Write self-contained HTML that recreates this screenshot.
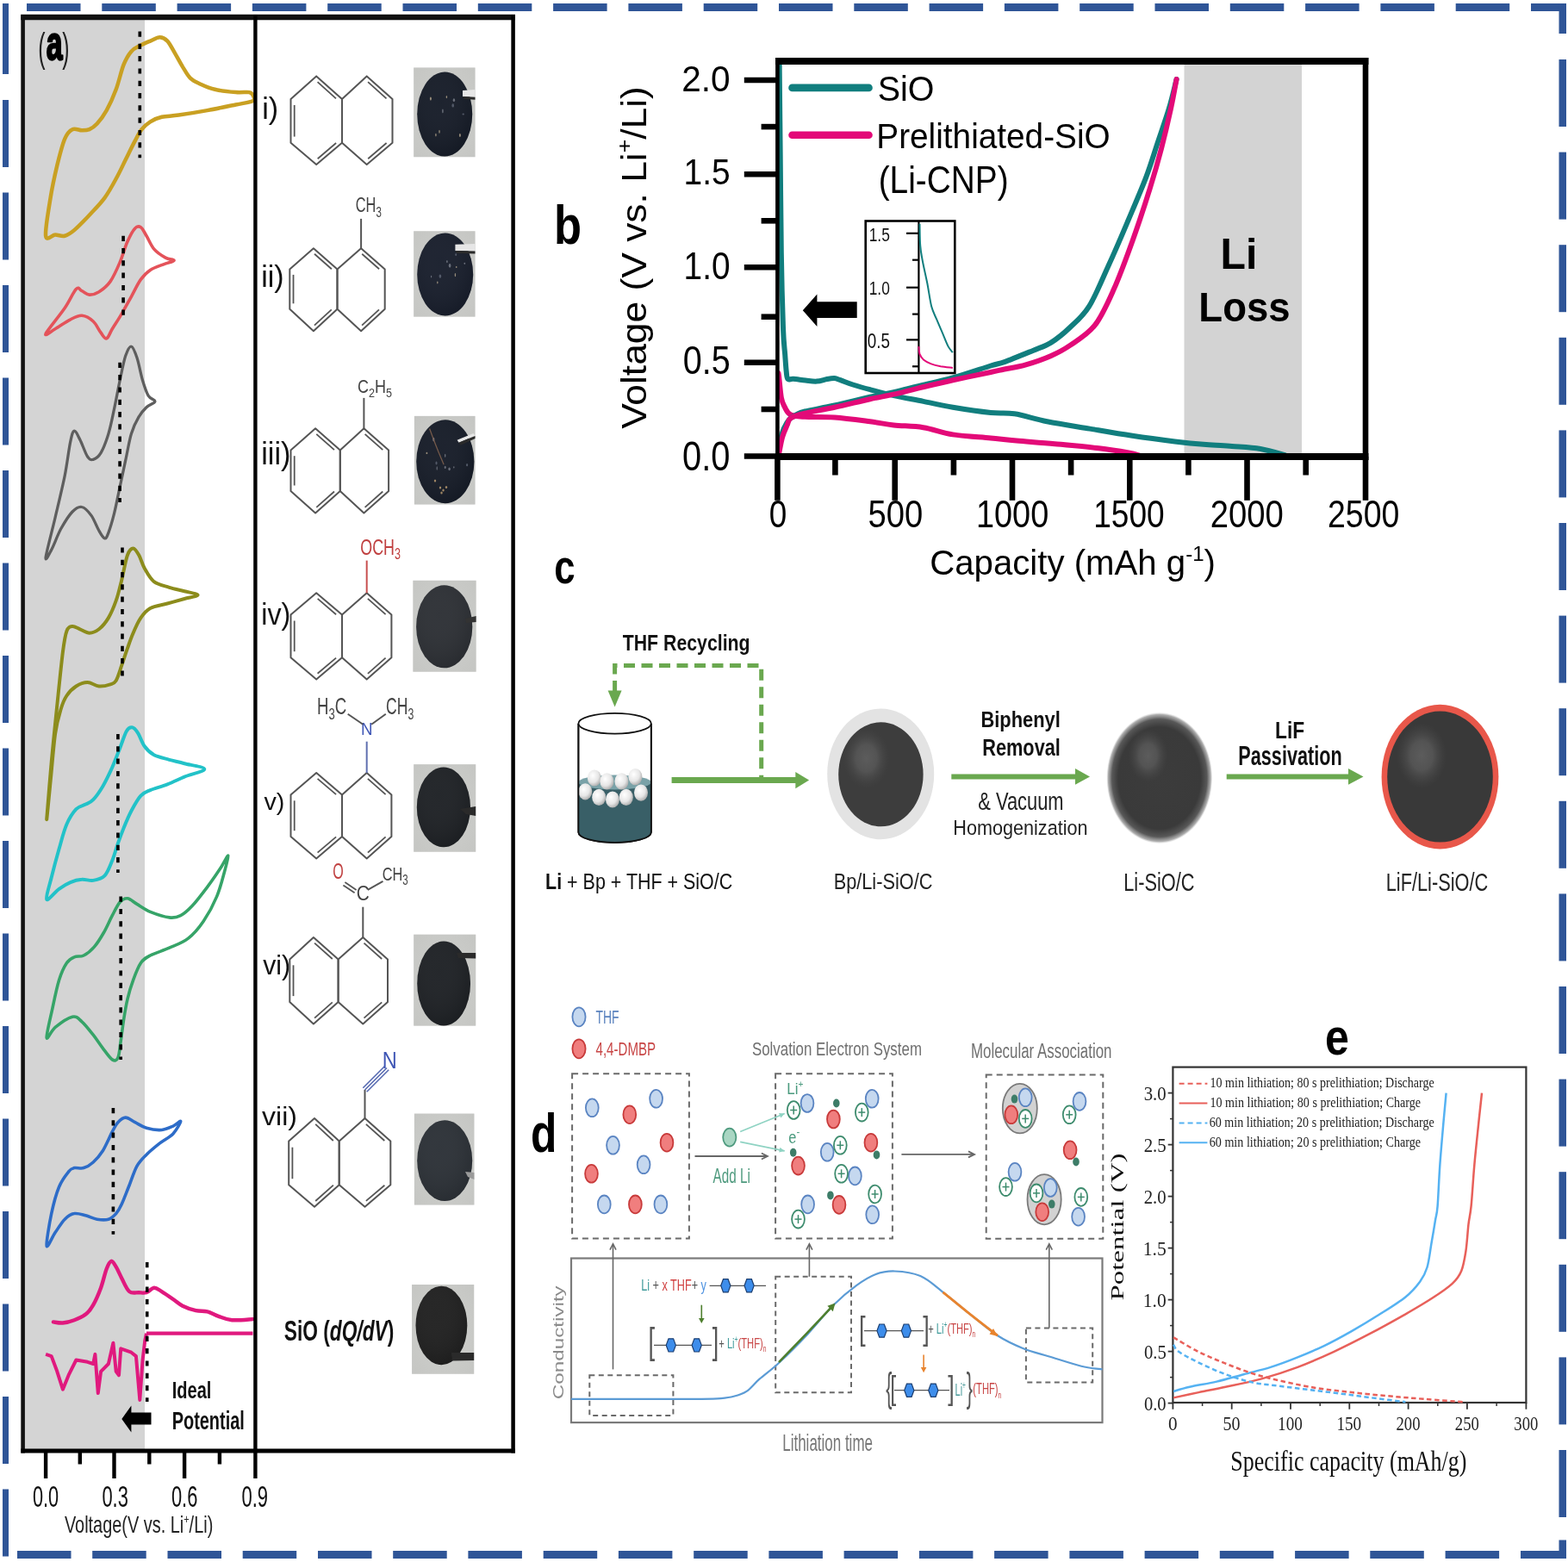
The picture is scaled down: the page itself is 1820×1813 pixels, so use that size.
<!DOCTYPE html>
<html><head><meta charset="utf-8"><title>Figure</title>
<style>html,body{margin:0;padding:0;background:#fff;}svg{display:block;}</style></head>
<body><svg width="1820" height="1813" viewBox="0 0 1820 1813">
<defs>
<radialGradient id="phbg" cx="0.5" cy="0.5" r="0.7"><stop offset="0" stop-color="#d4d5d2" stop-opacity="0.4"/><stop offset="1" stop-color="#b8b9b6" stop-opacity="0.4"/></radialGradient>
<radialGradient id="phsh" cx="0.4" cy="0.35" r="0.75"><stop offset="0" stop-color="#ffffff" stop-opacity="0.04"/><stop offset="1" stop-color="#000" stop-opacity="0.12"/></radialGradient>
<radialGradient id="wsph" cx="0.38" cy="0.35" r="0.7"><stop offset="0" stop-color="#ffffff"/><stop offset="0.6" stop-color="#e6e6e6"/><stop offset="1" stop-color="#a8a8a8"/></radialGradient>
<radialGradient id="dsph1" cx="0.5" cy="0.5" r="0.5" fx="0.3" fy="0.25"><stop offset="0" stop-color="#626262"/><stop offset="0.3" stop-color="#444"/><stop offset="1" stop-color="#353535"/></radialGradient>
<radialGradient id="dsph3" cx="0.5" cy="0.5" r="0.5" fx="0.3" fy="0.25"><stop offset="0" stop-color="#5e5e5e"/><stop offset="0.3" stop-color="#3e3e3e"/><stop offset="1" stop-color="#333"/></radialGradient>
<radialGradient id="fsph" cx="0.5" cy="0.5" r="0.5"><stop offset="0" stop-color="#3c3c3c"/><stop offset="0.78" stop-color="#3a3a3a"/><stop offset="0.9" stop-color="#585858"/><stop offset="0.97" stop-color="#8a8a8a" stop-opacity="0.7"/><stop offset="1" stop-color="#ccc" stop-opacity="0.2"/></radialGradient>
<radialGradient id="hl" cx="0.5" cy="0.5" r="0.5"><stop offset="0" stop-color="#5c5c5c" stop-opacity="1"/><stop offset="0.45" stop-color="#565656" stop-opacity="0.9"/><stop offset="0.75" stop-color="#4a4a4a" stop-opacity="0.5"/><stop offset="1" stop-color="#444" stop-opacity="0"/></radialGradient>
</defs>
<rect width="1820" height="1813" fill="#fff"/>
<rect x="31.0" y="4.0" width="62.5" height="9.0" fill="#2F5597" />
<rect x="118.3" y="4.0" width="62.5" height="9.0" fill="#2F5597" />
<rect x="205.6" y="4.0" width="62.5" height="9.0" fill="#2F5597" />
<rect x="292.9" y="4.0" width="62.5" height="9.0" fill="#2F5597" />
<rect x="380.2" y="4.0" width="62.5" height="9.0" fill="#2F5597" />
<rect x="467.5" y="4.0" width="62.5" height="9.0" fill="#2F5597" />
<rect x="554.8" y="4.0" width="62.5" height="9.0" fill="#2F5597" />
<rect x="642.1" y="4.0" width="62.5" height="9.0" fill="#2F5597" />
<rect x="729.4" y="4.0" width="62.5" height="9.0" fill="#2F5597" />
<rect x="816.7" y="4.0" width="62.5" height="9.0" fill="#2F5597" />
<rect x="904.0" y="4.0" width="62.5" height="9.0" fill="#2F5597" />
<rect x="991.3" y="4.0" width="62.5" height="9.0" fill="#2F5597" />
<rect x="1078.6" y="4.0" width="62.5" height="9.0" fill="#2F5597" />
<rect x="1165.9" y="4.0" width="62.5" height="9.0" fill="#2F5597" />
<rect x="1253.2" y="4.0" width="62.5" height="9.0" fill="#2F5597" />
<rect x="1340.5" y="4.0" width="62.5" height="9.0" fill="#2F5597" />
<rect x="1427.8" y="4.0" width="62.5" height="9.0" fill="#2F5597" />
<rect x="1515.1" y="4.0" width="62.5" height="9.0" fill="#2F5597" />
<rect x="1602.4" y="4.0" width="62.5" height="9.0" fill="#2F5597" />
<rect x="1689.7" y="4.0" width="62.5" height="9.0" fill="#2F5597" />
<rect x="1777.0" y="4.0" width="41.0" height="9.0" fill="#2F5597" />
<rect x="1809.5" y="4.0" width="8.5" height="35.0" fill="#2F5597" />
<rect x="1809.5" y="69.0" width="8.5" height="78.0" fill="#2F5597" />
<rect x="1809.5" y="176.6" width="8.5" height="78.0" fill="#2F5597" />
<rect x="1809.5" y="284.2" width="8.5" height="78.0" fill="#2F5597" />
<rect x="1809.5" y="391.8" width="8.5" height="78.0" fill="#2F5597" />
<rect x="1809.5" y="499.4" width="8.5" height="78.0" fill="#2F5597" />
<rect x="1809.5" y="607.0" width="8.5" height="78.0" fill="#2F5597" />
<rect x="1809.5" y="714.6" width="8.5" height="78.0" fill="#2F5597" />
<rect x="1809.5" y="822.2" width="8.5" height="78.0" fill="#2F5597" />
<rect x="1809.5" y="929.8" width="8.5" height="78.0" fill="#2F5597" />
<rect x="1809.5" y="1037.4" width="8.5" height="78.0" fill="#2F5597" />
<rect x="1809.5" y="1145.0" width="8.5" height="78.0" fill="#2F5597" />
<rect x="1809.5" y="1252.6" width="8.5" height="78.0" fill="#2F5597" />
<rect x="1809.5" y="1360.2" width="8.5" height="78.0" fill="#2F5597" />
<rect x="1809.5" y="1467.8" width="8.5" height="78.0" fill="#2F5597" />
<rect x="1809.5" y="1575.4" width="8.5" height="78.0" fill="#2F5597" />
<rect x="1809.5" y="1683.0" width="8.5" height="78.0" fill="#2F5597" />
<rect x="1809.5" y="1787.5" width="8.5" height="21.5" fill="#2F5597" />
<rect x="1765.0" y="1800.0" width="53.0" height="9.0" fill="#2F5597" />
<rect x="20.0" y="1800.0" width="62.5" height="9.0" fill="#2F5597" />
<rect x="107.2" y="1800.0" width="62.5" height="9.0" fill="#2F5597" />
<rect x="194.5" y="1800.0" width="62.5" height="9.0" fill="#2F5597" />
<rect x="281.7" y="1800.0" width="62.5" height="9.0" fill="#2F5597" />
<rect x="369.0" y="1800.0" width="62.5" height="9.0" fill="#2F5597" />
<rect x="456.2" y="1800.0" width="62.5" height="9.0" fill="#2F5597" />
<rect x="543.4" y="1800.0" width="62.5" height="9.0" fill="#2F5597" />
<rect x="630.7" y="1800.0" width="62.5" height="9.0" fill="#2F5597" />
<rect x="717.9" y="1800.0" width="62.5" height="9.0" fill="#2F5597" />
<rect x="805.2" y="1800.0" width="62.5" height="9.0" fill="#2F5597" />
<rect x="892.4" y="1800.0" width="62.5" height="9.0" fill="#2F5597" />
<rect x="979.6" y="1800.0" width="62.5" height="9.0" fill="#2F5597" />
<rect x="1066.9" y="1800.0" width="62.5" height="9.0" fill="#2F5597" />
<rect x="1154.1" y="1800.0" width="62.5" height="9.0" fill="#2F5597" />
<rect x="1241.4" y="1800.0" width="62.5" height="9.0" fill="#2F5597" />
<rect x="1328.6" y="1800.0" width="62.5" height="9.0" fill="#2F5597" />
<rect x="1415.8" y="1800.0" width="62.5" height="9.0" fill="#2F5597" />
<rect x="1503.1" y="1800.0" width="62.5" height="9.0" fill="#2F5597" />
<rect x="1590.3" y="1800.0" width="62.5" height="9.0" fill="#2F5597" />
<rect x="1677.6" y="1800.0" width="62.5" height="9.0" fill="#2F5597" />
<rect x="3.0" y="4.0" width="7.0" height="82.0" fill="#2F5597" />
<rect x="3.0" y="116.0" width="7.0" height="78.0" fill="#2F5597" />
<rect x="3.0" y="223.5" width="7.0" height="78.0" fill="#2F5597" />
<rect x="3.0" y="331.0" width="7.0" height="78.0" fill="#2F5597" />
<rect x="3.0" y="438.5" width="7.0" height="78.0" fill="#2F5597" />
<rect x="3.0" y="546.0" width="7.0" height="78.0" fill="#2F5597" />
<rect x="3.0" y="653.5" width="7.0" height="78.0" fill="#2F5597" />
<rect x="3.0" y="761.0" width="7.0" height="78.0" fill="#2F5597" />
<rect x="3.0" y="868.5" width="7.0" height="78.0" fill="#2F5597" />
<rect x="3.0" y="976.0" width="7.0" height="78.0" fill="#2F5597" />
<rect x="3.0" y="1083.5" width="7.0" height="78.0" fill="#2F5597" />
<rect x="3.0" y="1191.0" width="7.0" height="78.0" fill="#2F5597" />
<rect x="3.0" y="1298.5" width="7.0" height="78.0" fill="#2F5597" />
<rect x="3.0" y="1406.0" width="7.0" height="78.0" fill="#2F5597" />
<rect x="3.0" y="1513.5" width="7.0" height="78.0" fill="#2F5597" />
<rect x="3.0" y="1621.0" width="7.0" height="78.0" fill="#2F5597" />
<rect x="3.0" y="1728.5" width="7.0" height="78.0" fill="#2F5597" />
<rect x="28.5" y="23.0" width="139.5" height="1659.0" fill="#D4D4D4" />
<path d="M53.1,273.7 C52.2,266.5 56.4,243.2 58.6,229.6 C60.8,216.0 63.6,203.5 66.3,192.1 C69.1,180.7 72.2,168.2 75.2,161.2 C78.1,154.2 80.7,151.8 84.0,150.2 C87.3,148.5 91.7,151.3 95.0,151.3 C98.3,151.3 100.9,151.4 103.8,150.2 C106.8,148.9 109.3,147.2 112.7,143.5 C116.0,139.9 120.0,134.7 123.7,128.1 C127.4,121.5 131.4,112.7 134.7,103.8 C138.0,95.0 140.6,82.5 143.5,75.2 C146.5,67.8 149.2,63.4 152.4,59.7 C155.5,56.0 158.6,55.1 162.3,53.1 C166.0,51.1 170.6,49.2 174.4,47.6 C178.3,45.9 182.1,43.2 185.5,43.2 C188.8,43.2 191.3,44.5 194.3,47.6 C197.2,50.7 200.2,57.0 203.1,61.9 C206.0,66.9 209.0,72.6 211.9,77.4 C214.9,82.1 217.4,87.3 220.8,90.6 C224.1,93.9 227.0,95.0 231.8,97.2 C236.6,99.4 242.4,102.2 249.4,103.8 C256.4,105.5 267.1,106.6 273.7,107.1 C280.3,107.7 285.8,106.6 289.1,107.1 C292.4,107.7 292.8,108.8 293.5,110.4 C294.3,112.1 296.9,115.2 293.5,117.1 C290.2,118.9 282.5,119.6 273.7,121.5 C264.9,123.3 251.6,126.1 240.6,128.1 C229.6,130.1 216.3,132.3 207.5,133.6 C198.7,134.9 193.2,134.5 187.7,135.8 C182.1,137.1 178.3,138.9 174.4,141.3 C170.6,143.7 167.4,146.5 164.5,150.2 C161.6,153.8 159.9,157.5 156.8,163.4 C153.6,169.3 149.4,178.1 145.7,185.5 C142.1,192.8 138.8,200.2 134.7,207.5 C130.7,214.9 126.3,223.0 121.5,229.6 C116.7,236.2 111.9,241.0 106.0,247.2 C100.2,253.5 91.3,262.7 86.2,267.1 C81.0,271.5 78.8,272.8 75.2,273.7 C71.5,274.6 67.8,272.6 64.1,272.6 C60.4,272.6 54.0,280.9 53.1,273.7 Z" stroke="#C9A022" stroke-width="4.5" fill="none" stroke-linejoin="round"/>
<path d="M53.1,387.3 C54.9,383.3 69.3,366.2 75.2,357.5 C81.0,348.9 85.1,338.8 88.4,335.5 C91.7,332.2 92.4,336.6 95.0,337.7 C97.6,338.8 100.5,341.9 103.8,342.1 C107.1,342.3 110.8,341.3 114.9,338.8 C118.9,336.2 124.1,332.3 128.1,326.6 C132.1,320.9 135.8,312.3 139.1,304.6 C142.4,296.9 145.0,286.9 148.0,280.3 C150.9,273.7 154.2,267.6 156.8,264.9 C159.3,262.1 161.2,262.3 163.4,263.8 C165.6,265.2 167.4,269.5 170.0,273.7 C172.6,277.9 175.2,284.9 178.8,289.1 C182.5,293.4 188.2,296.9 192.1,299.1 C195.9,301.3 202.4,301.1 202.0,302.4 C201.6,303.7 194.5,304.9 189.9,306.8 C185.3,308.6 178.8,310.5 174.4,313.4 C170.0,316.3 167.1,319.3 163.4,324.4 C159.7,329.6 156.0,337.7 152.4,344.3 C148.7,350.9 145.0,357.9 141.3,364.1 C137.7,370.4 133.2,377.0 130.3,381.8 C127.4,386.6 125.9,392.1 123.7,392.8 C121.5,393.6 119.6,389.5 117.1,386.2 C114.5,382.9 111.9,376.3 108.2,373.0 C104.6,369.7 99.4,366.7 95.0,366.3 C90.6,366.0 86.9,368.2 81.8,370.8 C76.6,373.3 68.9,379.0 64.1,381.8 C59.3,384.5 51.3,391.4 53.1,387.3 Z" stroke="#E4535A" stroke-width="3.6" fill="none" stroke-linejoin="round"/>
<path d="M53.1,646.9 C53.8,640.7 60.4,616.4 64.1,600.6 C67.8,584.8 72.2,566.8 75.2,552.1 C78.1,537.4 79.9,521.0 81.8,512.4 C83.6,503.7 84.3,500.6 86.2,500.2 C88.0,499.9 90.2,505.2 92.8,510.2 C95.4,515.1 99.0,526.2 101.6,530.0 C104.2,533.9 105.7,534.1 108.2,533.3 C110.8,532.6 114.1,530.6 117.1,525.6 C120.0,520.6 123.3,512.0 125.9,503.5 C128.5,495.1 130.3,485.2 132.5,474.9 C134.7,464.6 136.9,452.1 139.1,441.8 C141.3,431.5 143.5,419.7 145.7,413.1 C148.0,406.5 150.2,401.7 152.4,402.1 C154.6,402.4 156.8,408.7 159.0,415.3 C161.2,421.9 163.4,434.4 165.6,441.8 C167.8,449.1 169.8,455.4 172.2,459.4 C174.6,463.5 180.3,463.8 179.9,466.0 C179.6,468.2 173.1,469.7 170.0,472.7 C166.9,475.6 164.1,478.5 161.2,483.7 C158.2,488.8 154.9,495.1 152.4,503.5 C149.8,512.0 148.0,524.1 145.7,534.4 C143.5,544.7 141.3,555.0 139.1,565.3 C136.9,575.6 134.7,587.4 132.5,596.2 C130.3,605.0 127.7,613.5 125.9,618.3 C124.1,623.0 123.3,625.2 121.5,624.9 C119.6,624.5 117.4,620.5 114.9,616.0 C112.3,611.6 109.3,603.0 106.0,598.4 C102.7,593.8 98.7,589.2 95.0,588.5 C91.3,587.7 88.0,589.8 84.0,594.0 C79.9,598.2 74.8,606.5 70.7,613.8 C66.7,621.2 62.7,632.6 59.7,638.1 C56.8,643.6 52.4,653.2 53.1,646.9 Z" stroke="#5E5E5E" stroke-width="3.3" fill="none" stroke-linejoin="round"/>
<path d="M54.2,950.9 C54.4,947.2 57.7,906.8 59.7,884.7 C61.7,862.7 64.1,839.9 66.3,818.5 C68.5,797.2 71.1,771.1 72.9,756.8 C74.8,742.4 75.5,737.5 77.4,732.5 C79.2,727.5 81.4,727.4 84.0,727.0 C86.5,726.6 89.5,729.0 92.8,730.3 C96.1,731.6 100.2,734.7 103.8,734.7 C107.5,734.7 111.2,733.2 114.9,730.3 C118.5,727.4 122.6,722.6 125.9,717.1 C129.2,711.6 132.1,704.6 134.7,697.2 C137.3,689.9 139.1,681.8 141.3,672.9 C143.5,664.1 145.7,650.3 148.0,644.3 C150.2,638.2 152.4,636.5 154.6,636.5 C156.8,636.5 159.0,640.4 161.2,644.3 C163.4,648.1 164.9,654.6 167.8,659.7 C170.7,664.9 174.1,671.5 178.8,675.2 C183.6,678.8 190.6,679.9 196.5,681.8 C202.4,683.6 208.6,684.7 214.1,686.2 C219.6,687.7 229.6,689.1 229.6,690.6 C229.6,692.1 220.0,693.4 214.1,695.0 C208.2,696.7 200.9,698.7 194.3,700.5 C187.7,702.4 179.6,703.3 174.4,706.0 C169.3,708.8 166.7,712.3 163.4,717.1 C160.1,721.8 157.1,728.8 154.6,734.7 C152.0,740.6 150.2,746.1 148.0,752.4 C145.7,758.6 143.5,766.0 141.3,772.2 C139.1,778.5 136.9,786.2 134.7,789.9 C132.5,793.5 131.4,793.2 128.1,794.3 C124.8,795.4 119.3,796.9 114.9,796.5 C110.4,796.1 106.0,792.1 101.6,792.1 C97.2,792.1 92.4,793.9 88.4,796.5 C84.3,799.1 80.3,803.1 77.4,807.5 C74.4,811.9 72.9,815.6 70.7,823.0 C68.5,830.3 66.1,837.7 64.1,851.6 C62.1,865.6 60.3,890.2 58.6,906.8 C57.0,923.3 54.0,954.6 54.2,950.9 Z" stroke="#8C8C1C" stroke-width="4.0" fill="none" stroke-linejoin="round"/>
<path d="M54.2,1043.9 C52.7,1041.7 57.3,1028.3 59.7,1018.5 C62.1,1008.8 65.6,995.7 68.5,985.5 C71.5,975.2 74.0,964.5 77.4,956.8 C80.7,949.1 84.7,943.0 88.4,939.1 C92.1,935.3 96.1,935.4 99.4,933.6 C102.7,931.8 104.9,931.6 108.2,928.1 C111.6,924.6 115.6,918.9 119.3,912.7 C122.9,906.4 127.0,897.9 130.3,890.6 C133.6,883.2 136.4,875.5 139.1,868.5 C141.9,861.5 144.5,852.7 146.8,848.7 C149.2,844.6 151.3,843.9 153.5,844.3 C155.7,844.6 157.7,847.2 160.1,850.9 C162.5,854.6 164.7,862.1 167.8,866.3 C170.9,870.6 174.1,873.7 178.8,876.3 C183.6,878.8 190.6,880.1 196.5,881.8 C202.4,883.4 207.3,884.3 214.1,886.2 C220.9,888.0 237.3,890.2 237.3,892.8 C237.3,895.4 221.3,898.7 214.1,901.6 C207.0,904.6 200.9,907.9 194.3,910.4 C187.7,913.0 179.6,914.9 174.4,917.1 C169.3,919.3 167.1,919.6 163.4,923.7 C159.7,927.7 155.7,935.1 152.4,941.3 C149.1,947.6 146.1,954.9 143.5,961.2 C141.0,967.4 139.1,972.6 136.9,978.8 C134.7,985.1 132.9,992.4 130.3,998.7 C127.7,1004.9 125.2,1012.5 121.5,1016.3 C117.8,1020.2 112.7,1021.1 108.2,1021.9 C103.8,1022.6 99.4,1020.4 95.0,1020.8 C90.6,1021.1 86.2,1022.2 81.8,1024.1 C77.4,1025.9 73.1,1028.5 68.5,1031.8 C63.9,1035.1 55.7,1046.1 54.2,1043.9 Z" stroke="#22C2C8" stroke-width="4.0" fill="none" stroke-linejoin="round"/>
<path d="M54.2,1204.5 C53.6,1200.9 58.4,1181.9 60.8,1170.8 C63.2,1159.6 65.8,1146.5 68.5,1137.7 C71.3,1128.8 74.4,1122.3 77.4,1117.8 C80.3,1113.3 82.9,1112.2 86.2,1110.8 C89.5,1109.3 93.4,1110.9 97.2,1109.0 C101.1,1107.0 105.5,1103.5 109.3,1099.1 C113.2,1094.7 116.9,1088.6 120.4,1082.5 C123.9,1076.5 127.2,1068.5 130.3,1062.7 C133.4,1056.8 136.2,1050.5 139.1,1047.2 C142.1,1043.9 144.6,1042.4 148.0,1042.8 C151.3,1043.2 154.6,1046.9 159.0,1049.4 C163.4,1052.0 168.2,1055.7 174.4,1058.3 C180.7,1060.8 190.6,1064.1 196.5,1064.9 C202.4,1065.6 205.3,1064.9 209.7,1062.7 C214.1,1060.5 217.8,1057.1 223.0,1051.6 C228.1,1046.1 235.1,1036.9 240.6,1029.6 C246.1,1022.2 252.0,1013.6 256.0,1007.5 C260.1,1001.4 264.1,992.4 264.9,993.2 C265.6,993.9 262.7,1004.0 260.5,1011.9 C258.3,1019.8 255.7,1031.0 251.6,1040.6 C247.6,1050.2 241.7,1061.2 236.2,1069.3 C230.7,1077.4 225.2,1084.0 218.5,1089.1 C211.9,1094.3 203.8,1096.9 196.5,1100.2 C189.1,1103.5 179.9,1106.1 174.4,1109.0 C168.9,1111.9 166.7,1113.0 163.4,1117.8 C160.1,1122.6 157.1,1130.7 154.6,1137.7 C152.0,1144.7 149.8,1152.0 148.0,1159.7 C146.1,1167.5 144.8,1175.9 143.5,1184.0 C142.3,1192.1 141.3,1201.0 140.2,1208.3 C139.1,1215.5 138.6,1224.1 136.9,1227.7 C135.3,1231.3 133.2,1231.7 130.3,1229.9 C127.4,1228.0 122.9,1221.4 119.3,1216.6 C115.6,1211.9 112.3,1206.4 108.2,1201.2 C104.2,1196.1 99.0,1189.3 95.0,1185.8 C91.0,1182.3 89.1,1179.1 84.0,1180.2 C78.8,1181.4 69.1,1188.3 64.1,1192.4 C59.2,1196.4 54.7,1208.1 54.2,1204.5 Z" stroke="#36A468" stroke-width="3.6" fill="none" stroke-linejoin="round"/>
<path d="M54.2,1446.1 C53.5,1442.4 57.3,1420.0 59.7,1408.6 C62.1,1397.2 65.2,1385.8 68.5,1377.7 C71.8,1369.6 76.6,1363.7 79.6,1360.0 C82.5,1356.3 83.2,1356.3 86.2,1355.6 C89.1,1354.9 93.5,1356.7 97.2,1355.6 C100.9,1354.5 104.6,1352.3 108.2,1349.0 C111.9,1345.7 115.6,1341.6 119.3,1335.8 C122.9,1329.9 127.4,1319.2 130.3,1313.7 C133.2,1308.2 134.3,1305.4 136.9,1302.7 C139.5,1299.9 142.4,1297.1 145.7,1297.1 C149.1,1297.1 152.7,1300.6 156.8,1302.7 C160.8,1304.7 164.9,1307.8 170.0,1309.3 C175.2,1310.8 182.5,1311.9 187.7,1311.5 C192.8,1311.1 197.2,1308.7 200.9,1307.1 C204.6,1305.4 209.7,1300.1 209.7,1301.6 C209.7,1303.0 204.9,1311.7 200.9,1315.9 C196.9,1320.1 190.6,1322.9 185.5,1326.9 C180.3,1331.0 174.4,1335.8 170.0,1340.2 C165.6,1344.6 162.3,1347.5 159.0,1353.4 C155.7,1359.3 153.1,1368.1 150.2,1375.5 C147.2,1382.8 143.9,1392.0 141.3,1397.5 C138.8,1403.0 137.3,1405.6 134.7,1408.6 C132.1,1411.5 129.6,1414.1 125.9,1415.2 C122.2,1416.3 117.1,1415.9 112.7,1415.2 C108.2,1414.4 103.8,1411.9 99.4,1410.8 C95.0,1409.7 90.2,1407.8 86.2,1408.6 C82.1,1409.3 78.8,1411.5 75.2,1415.2 C71.5,1418.8 67.6,1425.5 64.1,1430.6 C60.6,1435.8 54.9,1449.7 54.2,1446.1 Z" stroke="#2D6CC8" stroke-width="3.6" fill="none" stroke-linejoin="round"/>
<path d="M61.9,1534.4 C63.8,1534.6 68.9,1535.9 72.9,1535.5 C77.0,1535.2 81.8,1533.9 86.2,1532.2 C90.6,1530.6 95.7,1528.5 99.4,1525.6 C103.1,1522.7 105.3,1519.7 108.2,1514.6 C111.2,1509.4 114.5,1501.7 117.1,1494.7 C119.6,1487.7 121.7,1477.8 123.7,1472.7 C125.7,1467.5 127.4,1464.2 129.2,1463.8 C131.0,1463.5 132.7,1467.1 134.7,1470.4 C136.7,1473.8 138.8,1478.9 141.3,1483.7 C143.9,1488.5 146.8,1496.4 150.2,1499.1 C153.5,1501.9 157.9,1500.0 161.2,1500.2 C164.5,1500.4 167.1,1501.1 170.0,1500.2 C173.0,1499.3 175.9,1494.9 178.8,1494.7 C181.8,1494.5 184.0,1496.9 187.7,1499.1 C191.3,1501.3 196.9,1505.2 200.9,1508.0 C204.9,1510.7 207.5,1513.5 211.9,1515.7 C216.3,1517.9 222.6,1520.1 227.4,1521.2 C232.1,1522.3 236.2,1521.2 240.6,1522.3 C245.0,1523.4 249.1,1526.2 253.8,1527.8 C258.6,1529.5 262.7,1531.7 269.3,1532.2 C275.9,1532.8 289.5,1531.3 293.5,1531.1" stroke="#E0197E" stroke-width="4.4" fill="none" stroke-linecap="round"/>
<path d="M170.0,1547.7 L293.5,1547.7" stroke="#E0197E" stroke-width="4.2" fill="none" />
<path d="M53.1,1571.9 L59.7,1574.1 L66.3,1591.8 L72.9,1612.7 L79.6,1596.2 L88.4,1578.5 L101.6,1580.8 L108.2,1583.0 L110.4,1571.9 L113.8,1617.1 L117.1,1591.8 L125.9,1583.0 L131.4,1558.7 L134.7,1591.8 L138.0,1596.2 L140.2,1565.3 L152.4,1569.7 L157.9,1574.1 L162.3,1624.9 L165.6,1578.5 L168.2,1556.5 L170.0,1547.7" stroke="#E0197E" stroke-width="4.0" fill="none" stroke-linejoin="round"/>
<line x1="162.3" y1="36.5" x2="162.3" y2="183.2" stroke="#000" stroke-width="3.6" stroke-dasharray="6.2 8.1"/>
<line x1="143.1" y1="273.7" x2="143.1" y2="373.0" stroke="#000" stroke-width="3.6" stroke-dasharray="6.2 8.1"/>
<line x1="139.1" y1="420.8" x2="139.1" y2="583.0" stroke="#000" stroke-width="3.6" stroke-dasharray="6.2 8.1"/>
<line x1="142.0" y1="635.4" x2="142.0" y2="789.9" stroke="#000" stroke-width="3.6" stroke-dasharray="6.2 8.1"/>
<line x1="136.9" y1="852.0" x2="136.9" y2="1013.0" stroke="#000" stroke-width="3.6" stroke-dasharray="6.2 8.1"/>
<line x1="140.2" y1="1040.6" x2="140.2" y2="1229.9" stroke="#000" stroke-width="3.6" stroke-dasharray="6.2 8.1"/>
<line x1="131.4" y1="1286.0" x2="131.4" y2="1432.8" stroke="#000" stroke-width="3.6" stroke-dasharray="6.2 8.1"/>
<line x1="170.7" y1="1465.0" x2="170.7" y2="1627.0" stroke="#000" stroke-width="3.6" stroke-dasharray="6.2 8.1"/>
<path d="M141.3,1647.0 L152.4,1631.5 L152.4,1639.5 L175.5,1639.5 L175.5,1653.5 L152.4,1653.5 L152.4,1662.4 Z" stroke="none" stroke-width="1" fill="#000" />
<line x1="26.6" y1="17.0" x2="26.6" y2="1686.5" stroke="#111" stroke-width="4.6" />
<line x1="24.3" y1="20.0" x2="598.0" y2="20.0" stroke="#111" stroke-width="6.6" />
<line x1="595.6" y1="17.0" x2="595.6" y2="1686.5" stroke="#000" stroke-width="4.5" />
<line x1="24.3" y1="1684.0" x2="598.0" y2="1684.0" stroke="#000" stroke-width="5.0" />
<line x1="296.4" y1="17.0" x2="296.4" y2="1716.0" stroke="#000" stroke-width="4.4" />
<line x1="53.1" y1="1684.0" x2="53.1" y2="1716.0" stroke="#000" stroke-width="4.4" />
<line x1="132.5" y1="1684.0" x2="132.5" y2="1716.0" stroke="#000" stroke-width="4.4" />
<line x1="214.1" y1="1684.0" x2="214.1" y2="1716.0" stroke="#000" stroke-width="4.4" />
<line x1="92.8" y1="1684.0" x2="92.8" y2="1699.5" stroke="#000" stroke-width="4.4" />
<line x1="173.3" y1="1684.0" x2="173.3" y2="1699.5" stroke="#000" stroke-width="4.4" />
<line x1="254.9" y1="1684.0" x2="254.9" y2="1699.5" stroke="#000" stroke-width="4.4" />
<text style="white-space:pre" x="37.93" y="1749.15" font-family='"Liberation Sans", Arial, sans-serif' font-size="34.79" textLength="30.23" lengthAdjust="spacingAndGlyphs" fill="#111" >0.0</text>
<text style="white-space:pre" x="118.42" y="1749.15" font-family='"Liberation Sans", Arial, sans-serif' font-size="34.79" textLength="30.46" lengthAdjust="spacingAndGlyphs" fill="#111" >0.3</text>
<text style="white-space:pre" x="198.92" y="1749.15" font-family='"Liberation Sans", Arial, sans-serif' font-size="34.79" textLength="30.46" lengthAdjust="spacingAndGlyphs" fill="#111" >0.6</text>
<text style="white-space:pre" x="280.52" y="1749.15" font-family='"Liberation Sans", Arial, sans-serif' font-size="34.79" textLength="30.57" lengthAdjust="spacingAndGlyphs" fill="#111" >0.9</text>
<text style="white-space:pre" x="74.90" y="1779.25" font-family='"Liberation Sans", Arial, sans-serif' font-size="27.37" textLength="138.33" lengthAdjust="spacingAndGlyphs" fill="#222" >Voltage(V vs. Li</text>
<text style="white-space:pre" x="213.23" y="1767.76" font-family='"Liberation Sans", Arial, sans-serif' font-size="15.05" textLength="6.39" lengthAdjust="spacingAndGlyphs" fill="#222" >+</text>
<text style="white-space:pre" x="219.62" y="1779.25" font-family='"Liberation Sans", Arial, sans-serif' font-size="27.37" textLength="27.66" lengthAdjust="spacingAndGlyphs" fill="#222" >/Li)</text>
<text style="white-space:pre" x="44.31" y="70.73" font-family='"Liberation Sans", Arial, sans-serif' font-size="46.52" textLength="8.29" lengthAdjust="spacingAndGlyphs" fill="#222" >(</text>
<text style="white-space:pre" x="53.79" y="69.45" font-family='"Liberation Sans", Arial, sans-serif' font-size="54.91" font-weight="bold" textLength="18.82" lengthAdjust="spacingAndGlyphs" fill="#000" stroke="#000" stroke-width="2.4" stroke-linejoin="round">a</text>
<text style="white-space:pre" x="72.18" y="70.73" font-family='"Liberation Sans", Arial, sans-serif' font-size="46.52" textLength="8.29" lengthAdjust="spacingAndGlyphs" fill="#222" >)</text>
<text style="white-space:pre" x="199.70" y="1622.73" font-family='"Liberation Sans", Arial, sans-serif' font-size="27.21" font-weight="bold" textLength="45.68" lengthAdjust="spacingAndGlyphs" fill="#111" >Ideal</text>
<text style="white-space:pre" x="199.70" y="1658.70" font-family='"Liberation Sans", Arial, sans-serif' font-size="29.93" font-weight="bold" textLength="84.15" lengthAdjust="spacingAndGlyphs" fill="#111" >Potential</text>
<text style="white-space:pre" x="304.28" y="137.51" font-family='"Liberation Sans", Arial, sans-serif' font-size="34.22" textLength="18.94" lengthAdjust="spacingAndGlyphs" fill="#111" >i)</text>
<text style="white-space:pre" x="303.19" y="332.59" font-family='"Liberation Sans", Arial, sans-serif' font-size="35.29" textLength="26.43" lengthAdjust="spacingAndGlyphs" fill="#111" >ii)</text>
<text style="white-space:pre" x="303.17" y="539.22" font-family='"Liberation Sans", Arial, sans-serif' font-size="36.58" textLength="34.24" lengthAdjust="spacingAndGlyphs" fill="#111" >iii)</text>
<text style="white-space:pre" x="303.31" y="725.11" font-family='"Liberation Sans", Arial, sans-serif' font-size="34.22" textLength="34.00" lengthAdjust="spacingAndGlyphs" fill="#111" >iv)</text>
<text style="white-space:pre" x="306.46" y="939.75" font-family='"Liberation Sans", Arial, sans-serif' font-size="28.34" textLength="23.96" lengthAdjust="spacingAndGlyphs" fill="#111" >v)</text>
<text style="white-space:pre" x="305.25" y="1131.25" font-family='"Liberation Sans", Arial, sans-serif' font-size="30.70" textLength="31.92" lengthAdjust="spacingAndGlyphs" fill="#111" >vi)</text>
<text style="white-space:pre" x="304.14" y="1306.20" font-family='"Liberation Sans", Arial, sans-serif' font-size="29.52" textLength="40.86" lengthAdjust="spacingAndGlyphs" fill="#111" >vii)</text>
<path d="M367.2,88.4 L397.0,114.9 L397.0,165.7 L367.2,191.0 L337.5,165.7 L337.5,114.9 Z" stroke="#555" stroke-width="2.0" fill="none" stroke-linejoin="round"/>
<path d="M425.7,88.4 L455.5,114.9 L455.5,165.7 L425.7,191.0 L397.0,165.7 L397.0,114.9 Z" stroke="#555" stroke-width="2.0" fill="none" stroke-linejoin="round"/>
<line x1="341.7" y1="122.0" x2="341.7" y2="158.6" stroke="#555" stroke-width="1.8" />
<line x1="368.6" y1="95.2" x2="390.0" y2="114.3" stroke="#555" stroke-width="1.8" />
<line x1="390.1" y1="166.0" x2="368.7" y2="184.3" stroke="#555" stroke-width="1.8" />
<line x1="427.1" y1="95.2" x2="448.5" y2="114.3" stroke="#555" stroke-width="1.8" />
<line x1="448.6" y1="166.0" x2="427.2" y2="184.3" stroke="#555" stroke-width="1.8" />
<path d="M363.9,288.2 L391.5,312.4 L391.5,358.8 L363.9,384.2 L336.3,358.8 L336.3,312.4 Z" stroke="#555" stroke-width="2.0" fill="none" stroke-linejoin="round"/>
<path d="M419.1,288.2 L446.7,312.4 L446.7,358.8 L419.1,384.2 L391.5,358.8 L391.5,312.4 Z" stroke="#555" stroke-width="2.0" fill="none" stroke-linejoin="round"/>
<line x1="340.5" y1="318.9" x2="340.5" y2="352.3" stroke="#555" stroke-width="1.8" />
<line x1="365.0" y1="294.7" x2="384.9" y2="312.2" stroke="#555" stroke-width="1.8" />
<line x1="384.8" y1="359.3" x2="364.9" y2="377.6" stroke="#555" stroke-width="1.8" />
<line x1="420.2" y1="294.7" x2="440.1" y2="312.2" stroke="#555" stroke-width="1.8" />
<line x1="440.0" y1="359.3" x2="420.1" y2="377.6" stroke="#555" stroke-width="1.8" />
<line x1="419.1" y1="288.2" x2="419.1" y2="253.9" stroke="#555" stroke-width="2" />
<text style="white-space:pre" x="412.78" y="246.35" font-family='"Liberation Sans", Arial, sans-serif' font-size="23.78" textLength="23.63" lengthAdjust="spacingAndGlyphs" fill="#444" >CH</text>
<text style="white-space:pre" x="436.41" y="251.58" font-family='"Liberation Sans", Arial, sans-serif' font-size="16.65" textLength="6.37" lengthAdjust="spacingAndGlyphs" fill="#444" >3</text>
<path d="M366.1,497.2 L394.8,522.6 L394.8,570.1 L366.1,595.5 L337.5,570.1 L337.5,522.6 Z" stroke="#555" stroke-width="2.0" fill="none" stroke-linejoin="round"/>
<path d="M422.4,497.2 L451.1,522.6 L451.1,570.1 L422.4,595.5 L394.8,570.1 L394.8,522.6 Z" stroke="#555" stroke-width="2.0" fill="none" stroke-linejoin="round"/>
<line x1="341.7" y1="529.2" x2="341.7" y2="563.5" stroke="#555" stroke-width="1.8" />
<line x1="367.3" y1="503.9" x2="388.0" y2="522.2" stroke="#555" stroke-width="1.8" />
<line x1="388.0" y1="570.5" x2="367.3" y2="588.8" stroke="#555" stroke-width="1.8" />
<line x1="423.6" y1="503.9" x2="444.3" y2="522.2" stroke="#555" stroke-width="1.8" />
<line x1="444.3" y1="570.5" x2="423.6" y2="588.8" stroke="#555" stroke-width="1.8" />
<line x1="422.4" y1="497.2" x2="422.4" y2="461.9" stroke="#555" stroke-width="2" />
<text style="white-space:pre" x="414.90" y="455.98" font-family='"Liberation Sans", Arial, sans-serif' font-size="21.41" textLength="13.00" lengthAdjust="spacingAndGlyphs" fill="#444" >C</text>
<text style="white-space:pre" x="427.90" y="460.69" font-family='"Liberation Sans", Arial, sans-serif' font-size="14.98" textLength="7.01" lengthAdjust="spacingAndGlyphs" fill="#444" >2</text>
<text style="white-space:pre" x="434.91" y="455.98" font-family='"Liberation Sans", Arial, sans-serif' font-size="21.41" textLength="13.00" lengthAdjust="spacingAndGlyphs" fill="#444" >H</text>
<text style="white-space:pre" x="447.92" y="460.69" font-family='"Liberation Sans", Arial, sans-serif' font-size="14.98" textLength="7.01" lengthAdjust="spacingAndGlyphs" fill="#444" >5</text>
<path d="M367.2,688.2 L397.0,713.5 L397.0,763.2 L367.2,788.6 L337.5,763.2 L337.5,713.5 Z" stroke="#555" stroke-width="2.0" fill="none" stroke-linejoin="round"/>
<path d="M425.7,688.2 L454.4,713.5 L454.4,763.2 L425.7,788.6 L397.0,763.2 L397.0,713.5 Z" stroke="#555" stroke-width="2.0" fill="none" stroke-linejoin="round"/>
<line x1="341.7" y1="720.5" x2="341.7" y2="756.2" stroke="#555" stroke-width="1.8" />
<line x1="368.7" y1="694.9" x2="390.1" y2="713.2" stroke="#555" stroke-width="1.8" />
<line x1="390.1" y1="763.6" x2="368.6" y2="781.8" stroke="#555" stroke-width="1.8" />
<line x1="426.9" y1="694.9" x2="447.6" y2="713.1" stroke="#555" stroke-width="1.8" />
<line x1="447.6" y1="763.6" x2="426.9" y2="781.9" stroke="#555" stroke-width="1.8" />
<line x1="425.7" y1="688.2" x2="425.7" y2="650.6" stroke="#C85050" stroke-width="2" />
<text style="white-space:pre" x="418.30" y="643.88" font-family='"Liberation Sans", Arial, sans-serif' font-size="24.97" textLength="39.68" lengthAdjust="spacingAndGlyphs" fill="#C04040" >OCH</text>
<text style="white-space:pre" x="457.97" y="649.38" font-family='"Liberation Sans", Arial, sans-serif' font-size="17.48" textLength="6.95" lengthAdjust="spacingAndGlyphs" fill="#C04040" >3</text>
<path d="M367.2,897.1 L397.0,922.5 L397.0,971.0 L367.2,996.4 L337.5,971.0 L337.5,922.5 Z" stroke="#555" stroke-width="2.0" fill="none" stroke-linejoin="round"/>
<path d="M425.7,897.1 L454.4,922.5 L454.4,971.0 L425.7,996.4 L397.0,971.0 L397.0,922.5 Z" stroke="#555" stroke-width="2.0" fill="none" stroke-linejoin="round"/>
<line x1="341.7" y1="929.3" x2="341.7" y2="964.2" stroke="#555" stroke-width="1.8" />
<line x1="368.6" y1="903.9" x2="390.1" y2="922.1" stroke="#555" stroke-width="1.8" />
<line x1="390.1" y1="971.4" x2="368.6" y2="989.6" stroke="#555" stroke-width="1.8" />
<line x1="426.9" y1="903.8" x2="447.6" y2="922.1" stroke="#555" stroke-width="1.8" />
<line x1="447.6" y1="971.4" x2="426.9" y2="989.7" stroke="#555" stroke-width="1.8" />
<line x1="425.7" y1="897.1" x2="425.7" y2="860.7" stroke="#6070B0" stroke-width="2" />
<text style="white-space:pre" x="419.00" y="853.00" font-family='"Liberation Sans", Arial, sans-serif' font-size="21.01" textLength="13.54" lengthAdjust="spacingAndGlyphs" fill="#3F56B5" >N</text>
<line x1="421.3" y1="840.8" x2="403.7" y2="828.7" stroke="#555" stroke-width="2" />
<line x1="431.2" y1="840.8" x2="447.8" y2="828.7" stroke="#555" stroke-width="2" />
<text style="white-space:pre" x="368.01" y="828.92" font-family='"Liberation Sans", Arial, sans-serif' font-size="27.03" textLength="13.46" lengthAdjust="spacingAndGlyphs" fill="#444" >H</text>
<text style="white-space:pre" x="381.47" y="834.86" font-family='"Liberation Sans", Arial, sans-serif' font-size="18.92" textLength="7.26" lengthAdjust="spacingAndGlyphs" fill="#444" >3</text>
<text style="white-space:pre" x="388.73" y="828.92" font-family='"Liberation Sans", Arial, sans-serif' font-size="27.03" textLength="13.46" lengthAdjust="spacingAndGlyphs" fill="#444" >C</text>
<text style="white-space:pre" x="448.12" y="828.92" font-family='"Liberation Sans", Arial, sans-serif' font-size="27.03" textLength="25.36" lengthAdjust="spacingAndGlyphs" fill="#444" >CH</text>
<text style="white-space:pre" x="473.48" y="834.86" font-family='"Liberation Sans", Arial, sans-serif' font-size="18.92" textLength="6.83" lengthAdjust="spacingAndGlyphs" fill="#444" >3</text>
<path d="M363.9,1088.0 L392.6,1113.4 L392.6,1163.0 L363.9,1188.4 L336.3,1163.0 L336.3,1113.4 Z" stroke="#555" stroke-width="2.0" fill="none" stroke-linejoin="round"/>
<path d="M421.3,1088.0 L450.0,1113.4 L450.0,1163.0 L421.3,1188.4 L392.6,1163.0 L392.6,1113.4 Z" stroke="#555" stroke-width="2.0" fill="none" stroke-linejoin="round"/>
<line x1="340.5" y1="1120.3" x2="340.5" y2="1156.1" stroke="#555" stroke-width="1.8" />
<line x1="365.1" y1="1094.7" x2="385.8" y2="1113.0" stroke="#555" stroke-width="1.8" />
<line x1="385.8" y1="1163.4" x2="365.1" y2="1181.7" stroke="#555" stroke-width="1.8" />
<line x1="422.5" y1="1094.7" x2="443.2" y2="1113.0" stroke="#555" stroke-width="1.8" />
<line x1="443.2" y1="1163.4" x2="422.5" y2="1181.7" stroke="#555" stroke-width="1.8" />
<line x1="421.3" y1="1088.0" x2="421.3" y2="1052.7" stroke="#555" stroke-width="2" />
<text style="white-space:pre" x="413.66" y="1044.77" font-family='"Liberation Sans", Arial, sans-serif' font-size="23.38" textLength="15.01" lengthAdjust="spacingAndGlyphs" fill="#444" >C</text>
<text style="white-space:pre" x="386.28" y="1020.45" font-family='"Liberation Sans", Arial, sans-serif' font-size="24.93" textLength="12.49" lengthAdjust="spacingAndGlyphs" fill="#C04040" >O</text>
<line x1="400.4" y1="1024.1" x2="413.6" y2="1032.9" stroke="#555" stroke-width="1.8" />
<line x1="398.4" y1="1027.5" x2="411.6" y2="1036.3" stroke="#555" stroke-width="1.8" />
<line x1="426.8" y1="1032.8" x2="444.5" y2="1022.9" stroke="#555" stroke-width="2" />
<text style="white-space:pre" x="443.68" y="1022.29" font-family='"Liberation Sans", Arial, sans-serif' font-size="22.70" textLength="23.63" lengthAdjust="spacingAndGlyphs" fill="#444" >CH</text>
<text style="white-space:pre" x="467.31" y="1027.29" font-family='"Liberation Sans", Arial, sans-serif' font-size="15.89" textLength="6.37" lengthAdjust="spacingAndGlyphs" fill="#444" >3</text>
<path d="M365.0,1298.1 L393.7,1324.6 L393.7,1375.3 L365.0,1400.7 L335.2,1375.3 L335.2,1324.6 Z" stroke="#555" stroke-width="2.0" fill="none" stroke-linejoin="round"/>
<path d="M423.5,1298.1 L453.3,1324.6 L453.3,1375.3 L423.5,1400.7 L393.7,1375.3 L393.7,1324.6 Z" stroke="#555" stroke-width="2.0" fill="none" stroke-linejoin="round"/>
<line x1="339.4" y1="1331.7" x2="339.4" y2="1368.2" stroke="#555" stroke-width="1.8" />
<line x1="366.2" y1="1304.9" x2="386.8" y2="1324.0" stroke="#555" stroke-width="1.8" />
<line x1="386.9" y1="1375.7" x2="366.2" y2="1394.0" stroke="#555" stroke-width="1.8" />
<line x1="424.9" y1="1304.9" x2="446.3" y2="1324.0" stroke="#555" stroke-width="1.8" />
<line x1="446.4" y1="1375.7" x2="424.9" y2="1393.9" stroke="#555" stroke-width="1.8" />
<line x1="423.5" y1="1298.1" x2="423.5" y2="1265.0" stroke="#555" stroke-width="2" />
<line x1="421.3" y1="1262.8" x2="446.8" y2="1237.3" stroke="#5568B0" stroke-width="1.6" />
<line x1="423.5" y1="1265.0" x2="449.0" y2="1239.5" stroke="#5568B0" stroke-width="1.6" />
<line x1="425.7" y1="1267.2" x2="451.2" y2="1241.7" stroke="#5568B0" stroke-width="1.6" />
<text style="white-space:pre" x="443.71" y="1239.60" font-family='"Liberation Sans", Arial, sans-serif' font-size="27.25" textLength="17.02" lengthAdjust="spacingAndGlyphs" fill="#3F56B5" >N</text>
<text style="white-space:pre" x="329.72" y="1555.90" font-family='"Liberation Sans", Arial, sans-serif' font-size="33.80" font-weight="bold" textLength="53.06" lengthAdjust="spacingAndGlyphs" fill="#111" >SiO (</text>
<text style="white-space:pre" x="382.77" y="1555.90" font-family='"Liberation Sans", Arial, sans-serif' font-size="33.80" font-weight="bold" font-style="italic" textLength="66.95" lengthAdjust="spacingAndGlyphs" fill="#111" >dQ/dV</text>
<text style="white-space:pre" x="449.72" y="1555.90" font-family='"Liberation Sans", Arial, sans-serif' font-size="33.80" font-weight="bold" textLength="7.57" lengthAdjust="spacingAndGlyphs" fill="#111" >)</text>
<rect x="480.2" y="78.5" width="71.3" height="103.7" fill="#CDCECB" />
<rect x="480.2" y="78.5" width="71.3" height="103.7" fill="url(#phbg)" />
<ellipse cx="516.2" cy="132.6" rx="32.0" ry="49.0" fill="#141A26" stroke="none" stroke-width="1" />
<ellipse cx="516.2" cy="132.6" rx="32.0" ry="49.0" fill="url(#phsh)" stroke="none" stroke-width="1" />
<path d="M537.0,105.0 L551.5,104.0 L551.5,112.7 L537.0,112.0 Z" stroke="none" stroke-width="1" fill="#e6e6e6" />
<path d="M537.0,112.0 L551.5,112.7 L551.5,115.7 L539.0,115.0 Z" stroke="none" stroke-width="1" fill="#2a2a2a" />
<ellipse cx="526.9" cy="116.2" rx="1.2" ry="1.9" fill="#8a8f9a" stroke="none" stroke-width="1" opacity="0.7"/>
<ellipse cx="533.9" cy="157.0" rx="1.0" ry="1.9" fill="#c9b89a" stroke="none" stroke-width="1" opacity="0.7"/>
<ellipse cx="510.0" cy="152.8" rx="0.7" ry="2.1" fill="#c9b89a" stroke="none" stroke-width="1" opacity="0.7"/>
<ellipse cx="513.9" cy="129.0" rx="0.8" ry="2.4" fill="#8a8f9a" stroke="none" stroke-width="1" opacity="0.7"/>
<ellipse cx="499.9" cy="114.6" rx="1.0" ry="2.1" fill="#c9b89a" stroke="none" stroke-width="1" opacity="0.7"/>
<ellipse cx="518.4" cy="112.6" rx="0.7" ry="1.6" fill="#c9b89a" stroke="none" stroke-width="1" opacity="0.7"/>
<ellipse cx="505.9" cy="156.6" rx="0.7" ry="1.9" fill="#c9b89a" stroke="none" stroke-width="1" opacity="0.7"/>
<ellipse cx="525.7" cy="122.4" rx="1.3" ry="2.2" fill="#6a7080" stroke="none" stroke-width="1" opacity="0.7"/>
<ellipse cx="537.7" cy="132.4" rx="1.2" ry="1.0" fill="#6a7080" stroke="none" stroke-width="1" opacity="0.7"/>
<rect x="480.2" y="268.3" width="71.3" height="99.3" fill="#CDCECB" />
<rect x="480.2" y="268.3" width="71.3" height="99.3" fill="url(#phbg)" />
<ellipse cx="516.7" cy="318.5" rx="32.5" ry="48.0" fill="#161C2A" stroke="none" stroke-width="1" />
<ellipse cx="516.7" cy="318.5" rx="32.5" ry="48.0" fill="url(#phsh)" stroke="none" stroke-width="1" />
<path d="M528.4,283.7 L551.5,283.0 L551.5,291.5 L528.4,291.0 Z" stroke="none" stroke-width="1" fill="#e6e6e6" />
<path d="M528.4,291.0 L551.5,291.5 L551.5,294.5 L530.4,294.0 Z" stroke="none" stroke-width="1" fill="#2a2a2a" />
<ellipse cx="529.7" cy="310.0" rx="0.8" ry="1.0" fill="#c9b89a" stroke="none" stroke-width="1" opacity="0.7"/>
<ellipse cx="507.8" cy="328.0" rx="0.7" ry="1.4" fill="#c9b89a" stroke="none" stroke-width="1" opacity="0.7"/>
<ellipse cx="510.9" cy="320.6" rx="1.3" ry="2.2" fill="#6a7080" stroke="none" stroke-width="1" opacity="0.7"/>
<ellipse cx="539.3" cy="305.8" rx="0.9" ry="1.1" fill="#8a8f9a" stroke="none" stroke-width="1" opacity="0.7"/>
<ellipse cx="529.2" cy="295.5" rx="0.9" ry="1.5" fill="#6a7080" stroke="none" stroke-width="1" opacity="0.7"/>
<ellipse cx="522.1" cy="308.3" rx="1.3" ry="2.4" fill="#8a8f9a" stroke="none" stroke-width="1" opacity="0.7"/>
<ellipse cx="500.6" cy="321.1" rx="0.6" ry="1.3" fill="#8a8f9a" stroke="none" stroke-width="1" opacity="0.7"/>
<ellipse cx="528.4" cy="319.1" rx="0.7" ry="2.2" fill="#c9b89a" stroke="none" stroke-width="1" opacity="0.7"/>
<ellipse cx="518.9" cy="303.6" rx="0.8" ry="1.6" fill="#8a8f9a" stroke="none" stroke-width="1" opacity="0.7"/>
<rect x="480.9" y="482.9" width="70.6" height="102.6" fill="#CDCECB" />
<rect x="480.9" y="482.9" width="70.6" height="102.6" fill="url(#phbg)" />
<ellipse cx="516.8" cy="535.8" rx="33.6" ry="48.5" fill="#141A26" stroke="none" stroke-width="1" />
<ellipse cx="516.8" cy="535.8" rx="33.6" ry="48.5" fill="url(#phsh)" stroke="none" stroke-width="1" />
<path d="M530.6,510.7 L549.5,502.9 L551.5,505.9 L532.6,513.7 Z" stroke="none" stroke-width="1" fill="#e6e6e6" />
<path d="M532.6,513.7 L551.5,505.9 L551.5,508.9 L534.6,516.7 Z" stroke="none" stroke-width="1" fill="#2a2a2a" />
<ellipse cx="507.2" cy="543.5" rx="0.6" ry="2.2" fill="#8a8f9a" stroke="none" stroke-width="1" opacity="0.7"/>
<ellipse cx="516.7" cy="542.4" rx="1.0" ry="1.6" fill="#8a8f9a" stroke="none" stroke-width="1" opacity="0.7"/>
<ellipse cx="495.4" cy="525.9" rx="0.9" ry="1.2" fill="#c9b89a" stroke="none" stroke-width="1" opacity="0.7"/>
<ellipse cx="526.8" cy="542.4" rx="0.7" ry="1.1" fill="#8a8f9a" stroke="none" stroke-width="1" opacity="0.7"/>
<ellipse cx="521.6" cy="544.3" rx="1.2" ry="1.9" fill="#8a8f9a" stroke="none" stroke-width="1" opacity="0.7"/>
<ellipse cx="542.1" cy="539.7" rx="1.1" ry="1.6" fill="#6a7080" stroke="none" stroke-width="1" opacity="0.7"/>
<ellipse cx="516.7" cy="528.8" rx="0.7" ry="2.1" fill="#8a8f9a" stroke="none" stroke-width="1" opacity="0.7"/>
<ellipse cx="506.5" cy="537.5" rx="1.0" ry="1.9" fill="#6a7080" stroke="none" stroke-width="1" opacity="0.7"/>
<ellipse cx="503.3" cy="510.1" rx="1.1" ry="2.3" fill="#8a8f9a" stroke="none" stroke-width="1" opacity="0.7"/>
<path d="M498.6,497.5 C499.5,499.9 502.1,507.1 504.0,512.0 C505.9,516.9 508.1,522.5 510.0,527.0 C511.9,531.5 514.2,537.2 515.1,539.2" stroke="#8a6650" stroke-width="1.3" fill="none" opacity="0.8"/>
<ellipse cx="511.0" cy="566.0" rx="1.2" ry="1.6" fill="#b89a70" stroke="none" stroke-width="1" opacity="0.85"/>
<ellipse cx="514.5" cy="569.0" rx="1.2" ry="1.6" fill="#b89a70" stroke="none" stroke-width="1" opacity="0.85"/>
<ellipse cx="518.0" cy="565.5" rx="1.2" ry="1.6" fill="#b89a70" stroke="none" stroke-width="1" opacity="0.85"/>
<ellipse cx="512.5" cy="572.0" rx="1.2" ry="1.6" fill="#b89a70" stroke="none" stroke-width="1" opacity="0.85"/>
<ellipse cx="505.0" cy="558.0" rx="1.2" ry="1.6" fill="#b89a70" stroke="none" stroke-width="1" opacity="0.85"/>
<rect x="479.4" y="673.8" width="73.2" height="105.9" fill="#CDCECB" />
<rect x="479.4" y="673.8" width="73.2" height="105.9" fill="url(#phbg)" />
<ellipse cx="515.7" cy="727.3" rx="32.6" ry="48.0" fill="#2B2E33" stroke="none" stroke-width="1" />
<ellipse cx="515.7" cy="727.3" rx="32.6" ry="48.0" fill="url(#phsh)" stroke="none" stroke-width="1" />
<path d="M540.0,718.0 L552.6,715.0 L552.6,722.0 L541.0,723.0 Z" stroke="none" stroke-width="1" fill="#333" />
<rect x="480.2" y="887.2" width="72.0" height="101.5" fill="#CDCECB" />
<rect x="480.2" y="887.2" width="72.0" height="101.5" fill="url(#phbg)" />
<ellipse cx="514.9" cy="936.9" rx="31.1" ry="46.4" fill="#1C1F23" stroke="none" stroke-width="1" />
<ellipse cx="514.9" cy="936.9" rx="31.1" ry="46.4" fill="url(#phsh)" stroke="none" stroke-width="1" />
<path d="M534.0,939.0 L552.2,936.0 L552.2,947.0 L541.0,945.0 Z" stroke="none" stroke-width="1" fill="#2a2a2a" />
<rect x="480.2" y="1084.7" width="72.0" height="105.9" fill="#CDCECB" />
<rect x="480.2" y="1084.7" width="72.0" height="105.9" fill="url(#phbg)" />
<ellipse cx="515.1" cy="1141.5" rx="30.9" ry="49.0" fill="#1C1F23" stroke="none" stroke-width="1" />
<ellipse cx="515.1" cy="1141.5" rx="30.9" ry="49.0" fill="url(#phsh)" stroke="none" stroke-width="1" />
<path d="M530.0,1106.0 L552.2,1106.0 L552.2,1112.5 L532.0,1112.0 Z" stroke="none" stroke-width="1" fill="#2a2a2a" />
<rect x="480.9" y="1292.6" width="69.5" height="105.9" fill="#CDCECB" />
<rect x="480.9" y="1292.6" width="69.5" height="105.9" fill="url(#phbg)" />
<ellipse cx="516.2" cy="1347.2" rx="32.0" ry="46.9" fill="#2A2F35" stroke="none" stroke-width="1" />
<ellipse cx="516.2" cy="1347.2" rx="32.0" ry="46.9" fill="url(#phsh)" stroke="none" stroke-width="1" />
<path d="M540.0,1360.0 L550.4,1361.0 L550.4,1369.0 L543.0,1366.0 Z" stroke="none" stroke-width="1" fill="#9a9a9a" />
<rect x="478.1" y="1491.0" width="72.1" height="103.7" fill="#CDCECB" />
<rect x="478.1" y="1491.0" width="72.1" height="103.7" fill="url(#phbg)" />
<ellipse cx="512.4" cy="1538.5" rx="29.9" ry="45.7" fill="#1E1E1E" stroke="none" stroke-width="1" />
<ellipse cx="512.4" cy="1538.5" rx="29.9" ry="45.7" fill="url(#phsh)" stroke="none" stroke-width="1" />
<path d="M523.9,1570.0 L550.2,1570.0 L550.2,1579.0 L525.0,1579.5 Z" stroke="none" stroke-width="1" fill="#2a2a2a" />
<rect x="1374.5" y="75.0" width="136.5" height="451.0" fill="#D3D3D3" />
<text style="white-space:pre" x="1416.57" y="311.50" font-family='"Liberation Sans", Arial, sans-serif' font-size="50.21" font-weight="bold" textLength="42.84" lengthAdjust="spacingAndGlyphs" fill="#000" >Li</text>
<text style="white-space:pre" x="1391.34" y="372.81" font-family='"Liberation Sans", Arial, sans-serif' font-size="48.86" font-weight="bold" textLength="106.24" lengthAdjust="spacingAndGlyphs" fill="#000" >Loss</text>
<path d="M903.5,433.0 C903.6,433.7 903.5,432.2 904.1,437.0 C904.7,441.8 905.8,455.8 906.9,461.8 C908.0,467.8 909.2,469.5 911.0,472.8 C912.8,476.1 914.0,479.7 917.9,481.5 C921.8,483.3 925.8,483.3 934.3,483.8 C942.8,484.3 956.1,483.6 968.7,484.5 C981.3,485.4 998.4,487.8 1009.9,489.3 C1021.4,490.8 1027.1,492.2 1037.4,493.4 C1047.7,494.5 1060.3,494.4 1071.7,496.2 C1083.1,498.0 1093.0,502.3 1106.0,504.4 C1119.0,506.4 1137.7,507.3 1150.0,508.5 C1162.3,509.7 1167.6,510.4 1180.0,511.5 C1192.4,512.6 1208.5,513.7 1224.4,515.2 C1240.3,516.7 1261.2,518.6 1275.5,520.3 C1289.8,522.0 1302.0,524.1 1310.0,525.5 C1318.0,526.9 1321.0,528.2 1323.2,528.8" stroke="#E30A78" stroke-width="6.0" fill="none" stroke-linejoin="round" stroke-linecap="round"/>
<path d="M904.6,71.0 C904.8,89.5 905.3,145.1 905.7,182.0 C906.1,218.9 906.2,259.6 906.8,292.7 C907.3,325.8 908.3,361.0 909.0,380.9 C909.7,400.8 910.6,403.3 911.2,411.8 C911.8,420.3 912.2,427.3 912.8,432.0 C913.3,436.7 913.2,438.7 914.5,440.0 C915.8,441.3 917.2,439.6 920.6,439.8 C924.0,440.1 930.4,441.0 935.0,441.5 C939.6,442.0 943.9,442.9 948.1,442.6 C952.3,442.4 956.6,440.6 960.0,440.0 C963.4,439.4 966.1,438.9 968.7,439.1 C971.3,439.3 972.0,440.0 975.5,441.2 C979.0,442.4 984.3,444.7 990.0,446.5 C995.7,448.3 1002.0,450.1 1009.9,452.2 C1017.8,454.3 1027.1,456.8 1037.4,459.1 C1047.7,461.4 1060.3,463.6 1071.7,465.9 C1083.1,468.2 1093.0,470.6 1106.0,472.8 C1119.0,475.0 1138.1,477.8 1150.0,479.0 C1161.9,480.2 1166.6,478.6 1177.5,480.3 C1188.4,482.0 1200.9,486.4 1215.4,489.3 C1230.0,492.2 1248.3,494.9 1264.8,497.6 C1281.3,500.4 1297.8,503.3 1314.3,505.8 C1330.8,508.3 1349.4,510.7 1363.7,512.4 C1378.0,514.1 1389.0,515.1 1400.0,516.0 C1411.0,516.9 1419.5,517.2 1430.0,518.0 C1440.5,518.8 1452.7,519.2 1463.0,521.0 C1473.3,522.8 1487.2,527.2 1492.0,528.5" stroke="#117E7E" stroke-width="6.0" fill="none" stroke-linejoin="round" stroke-linecap="round"/>
<path d="M903.0,528.0 C903.5,525.0 904.8,515.2 906.0,510.0 C907.2,504.8 908.3,500.8 910.0,497.0 C911.7,493.2 913.5,489.7 916.0,487.0 C918.5,484.3 922.0,482.6 925.0,481.0 C928.0,479.4 927.0,479.2 934.3,477.5 C941.6,475.8 956.1,473.3 968.7,470.5 C981.3,467.7 998.4,463.4 1009.9,460.8 C1021.4,458.2 1028.2,457.2 1037.4,455.2 C1046.6,453.1 1053.4,451.3 1064.8,448.5 C1076.2,445.7 1091.8,442.5 1106.0,438.5 C1120.2,434.5 1140.0,427.6 1150.0,424.5 C1160.0,421.4 1157.8,423.0 1165.9,420.1 C1174.1,417.2 1189.9,410.6 1198.9,406.9 C1207.9,403.1 1212.8,402.1 1220.0,397.6 C1227.2,393.1 1234.7,387.0 1242.0,380.0 C1249.3,373.0 1256.7,367.4 1264.1,355.6 C1271.5,343.8 1278.8,325.5 1286.2,309.3 C1293.6,293.1 1301.0,275.9 1308.3,258.6 C1315.6,241.3 1324.4,221.1 1330.3,205.6 C1336.2,190.1 1339.2,179.1 1343.6,165.9 C1348.0,152.7 1353.1,138.5 1356.8,126.2 C1360.5,113.9 1364.1,97.7 1365.6,92.0" stroke="#117E7E" stroke-width="6.0" fill="none" stroke-linejoin="round" stroke-linecap="round"/>
<path d="M903.0,529.0 C903.2,528.6 903.2,530.0 904.1,526.4 C905.0,522.8 906.6,512.6 908.2,507.1 C909.8,501.6 912.1,497.0 913.7,493.4 C915.3,489.8 914.5,487.5 917.9,485.2 C921.3,482.9 925.8,481.8 934.3,479.7 C942.8,477.6 956.1,475.6 968.7,472.8 C981.3,470.1 998.4,465.7 1009.9,463.2 C1021.4,460.7 1028.2,459.8 1037.4,457.7 C1046.6,455.6 1053.4,453.6 1064.8,450.8 C1076.2,448.1 1091.8,444.3 1106.0,441.2 C1120.2,438.1 1140.0,434.1 1150.0,432.0 C1160.0,429.9 1159.1,429.9 1165.9,428.5 C1172.7,427.1 1181.7,426.0 1190.7,423.4 C1199.7,420.8 1211.5,416.8 1220.0,413.0 C1228.5,409.2 1233.5,406.8 1242.0,400.9 C1250.5,395.0 1262.2,388.5 1270.7,377.7 C1279.2,366.9 1285.4,352.4 1292.8,335.8 C1300.2,319.2 1307.9,297.9 1314.9,278.4 C1321.9,258.9 1329.2,236.6 1334.7,218.9 C1340.2,201.2 1344.0,187.9 1348.0,172.5 C1352.0,157.1 1356.1,139.6 1359.0,126.2 C1361.9,112.8 1364.5,97.7 1365.6,92.0" stroke="#E30A78" stroke-width="6.0" fill="none" stroke-linejoin="round" stroke-linecap="round"/>
<rect x="1004.7" y="256.5" width="103.6" height="176.5" fill="#fff" stroke="#000" stroke-width="2.6"/>
<line x1="1066.4" y1="256.5" x2="1066.4" y2="433.0" stroke="#000" stroke-width="2.2" />
<line x1="1052.0" y1="270.8" x2="1066.4" y2="270.8" stroke="#000" stroke-width="2.2" />
<line x1="1052.0" y1="333.7" x2="1066.4" y2="333.7" stroke="#000" stroke-width="2.2" />
<line x1="1052.0" y1="394.4" x2="1066.4" y2="394.4" stroke="#000" stroke-width="2.2" />
<line x1="1059.0" y1="301.7" x2="1066.4" y2="301.7" stroke="#000" stroke-width="2.2" />
<line x1="1059.0" y1="364.6" x2="1066.4" y2="364.6" stroke="#000" stroke-width="2.2" />
<line x1="1059.0" y1="425.3" x2="1066.4" y2="425.3" stroke="#000" stroke-width="2.2" />
<text style="white-space:pre" x="1008.69" y="280.48" font-family='"Liberation Sans", Arial, sans-serif' font-size="22.00" textLength="24.21" lengthAdjust="spacingAndGlyphs" fill="#111" >1.5</text>
<text style="white-space:pre" x="1008.70" y="342.28" font-family='"Liberation Sans", Arial, sans-serif' font-size="21.83" textLength="24.11" lengthAdjust="spacingAndGlyphs" fill="#111" >1.0</text>
<text style="white-space:pre" x="1006.75" y="404.07" font-family='"Liberation Sans", Arial, sans-serif' font-size="23.38" textLength="26.21" lengthAdjust="spacingAndGlyphs" fill="#111" >0.5</text>
<path d="M1067.5,259.8 C1067.6,264.0 1067.6,278.0 1068.2,285.2 C1068.7,292.3 1069.5,295.5 1070.8,302.8 C1072.2,310.2 1074.6,320.5 1076.4,329.3 C1078.1,338.1 1079.4,348.8 1081.2,355.8 C1083.1,362.7 1085.3,366.1 1087.4,371.2 C1089.5,376.4 1091.8,381.5 1094.0,386.6 C1096.2,391.8 1098.6,398.3 1100.6,402.1 C1102.6,405.8 1105.0,408.0 1105.9,409.2" stroke="#117E7E" stroke-width="2.0" fill="none" />
<path d="M1066.4,402.1 C1066.6,403.6 1066.6,408.3 1067.5,410.9 C1068.5,413.5 1069.7,415.6 1071.9,417.5 C1074.2,419.4 1077.5,421.1 1080.8,422.4 C1084.1,423.7 1087.6,424.5 1091.8,425.3 C1096.0,426.0 1103.6,426.7 1105.9,427.0" stroke="#E30A78" stroke-width="2.0" fill="none" />
<line x1="902.4" y1="67.0" x2="902.4" y2="534.0" stroke="#000" stroke-width="4.6" />
<line x1="900.0" y1="71.0" x2="1588.4" y2="71.0" stroke="#000" stroke-width="8.2" />
<line x1="1585.0" y1="67.0" x2="1585.0" y2="534.0" stroke="#000" stroke-width="6.6" />
<line x1="900.0" y1="530.0" x2="1588.4" y2="530.0" stroke="#000" stroke-width="8" />
<line x1="863.8" y1="93.0" x2="902.0" y2="93.0" stroke="#000" stroke-width="6.6" />
<line x1="863.8" y1="202.2" x2="902.0" y2="202.2" stroke="#000" stroke-width="6.6" />
<line x1="863.8" y1="310.3" x2="902.0" y2="310.3" stroke="#000" stroke-width="6.6" />
<line x1="863.8" y1="420.7" x2="902.0" y2="420.7" stroke="#000" stroke-width="6.6" />
<line x1="863.8" y1="529.5" x2="902.0" y2="529.5" stroke="#000" stroke-width="6.6" />
<line x1="883.6" y1="147.1" x2="902.0" y2="147.1" stroke="#000" stroke-width="6.6" />
<line x1="883.6" y1="256.3" x2="902.0" y2="256.3" stroke="#000" stroke-width="6.6" />
<line x1="883.6" y1="367.7" x2="902.0" y2="367.7" stroke="#000" stroke-width="6.6" />
<line x1="883.6" y1="475.0" x2="902.0" y2="475.0" stroke="#000" stroke-width="6.6" />
<text style="white-space:pre" x="791.17" y="105.88" font-family='"Liberation Sans", Arial, sans-serif' font-size="41.97" textLength="56.35" lengthAdjust="spacingAndGlyphs" fill="#000" >2.0</text>
<text style="white-space:pre" x="793.58" y="213.97" font-family='"Liberation Sans", Arial, sans-serif' font-size="42.57" textLength="54.08" lengthAdjust="spacingAndGlyphs" fill="#000" >1.5</text>
<text style="white-space:pre" x="793.59" y="323.55" font-family='"Liberation Sans", Arial, sans-serif' font-size="45.21" textLength="53.87" lengthAdjust="spacingAndGlyphs" fill="#000" >1.0</text>
<text style="white-space:pre" x="792.72" y="434.35" font-family='"Liberation Sans", Arial, sans-serif' font-size="45.49" textLength="54.97" lengthAdjust="spacingAndGlyphs" fill="#000" >0.5</text>
<text style="white-space:pre" x="792.11" y="546.03" font-family='"Liberation Sans", Arial, sans-serif' font-size="47.18" textLength="55.39" lengthAdjust="spacingAndGlyphs" fill="#000" >0.0</text>
<line x1="902.4" y1="530.0" x2="902.4" y2="580.8" stroke="#000" stroke-width="6.6" />
<line x1="1038.7" y1="530.0" x2="1038.7" y2="580.8" stroke="#000" stroke-width="6.6" />
<line x1="1175.0" y1="530.0" x2="1175.0" y2="580.8" stroke="#000" stroke-width="6.6" />
<line x1="1311.3" y1="530.0" x2="1311.3" y2="580.8" stroke="#000" stroke-width="6.6" />
<line x1="1447.5" y1="530.0" x2="1447.5" y2="580.8" stroke="#000" stroke-width="6.6" />
<line x1="1585.0" y1="530.0" x2="1585.0" y2="580.8" stroke="#000" stroke-width="6.6" />
<line x1="969.4" y1="530.0" x2="969.4" y2="551.5" stroke="#000" stroke-width="6.6" />
<line x1="1106.9" y1="530.0" x2="1106.9" y2="551.5" stroke="#000" stroke-width="6.6" />
<line x1="1243.1" y1="530.0" x2="1243.1" y2="551.5" stroke="#000" stroke-width="6.6" />
<line x1="1379.4" y1="530.0" x2="1379.4" y2="551.5" stroke="#000" stroke-width="6.6" />
<line x1="1515.7" y1="530.0" x2="1515.7" y2="551.5" stroke="#000" stroke-width="6.6" />
<text style="white-space:pre" x="892.82" y="612.36" font-family='"Liberation Sans", Arial, sans-serif' font-size="43.66" textLength="20.51" lengthAdjust="spacingAndGlyphs" fill="#000" >0</text>
<text style="white-space:pre" x="1007.47" y="612.36" font-family='"Liberation Sans", Arial, sans-serif' font-size="43.66" textLength="63.70" lengthAdjust="spacingAndGlyphs" fill="#000" >500</text>
<text style="white-space:pre" x="1132.96" y="612.36" font-family='"Liberation Sans", Arial, sans-serif' font-size="43.66" textLength="84.25" lengthAdjust="spacingAndGlyphs" fill="#000" >1000</text>
<text style="white-space:pre" x="1269.22" y="612.36" font-family='"Liberation Sans", Arial, sans-serif' font-size="43.66" textLength="82.47" lengthAdjust="spacingAndGlyphs" fill="#000" >1500</text>
<text style="white-space:pre" x="1404.69" y="612.36" font-family='"Liberation Sans", Arial, sans-serif' font-size="43.66" textLength="85.04" lengthAdjust="spacingAndGlyphs" fill="#000" >2000</text>
<text style="white-space:pre" x="1541.03" y="612.36" font-family='"Liberation Sans", Arial, sans-serif' font-size="43.66" textLength="83.27" lengthAdjust="spacingAndGlyphs" fill="#000" >2500</text>
<text style="white-space:pre" x="1079.29" y="666.92" font-family='"Liberation Sans", Arial, sans-serif' font-size="39.90" textLength="296.84" lengthAdjust="spacingAndGlyphs" fill="#000" >Capacity (mAh g</text>
<text style="white-space:pre" x="1376.13" y="650.96" font-family='"Liberation Sans", Arial, sans-serif' font-size="23.94" textLength="21.42" lengthAdjust="spacingAndGlyphs" fill="#000" >-1</text>
<text style="white-space:pre" x="1397.56" y="666.92" font-family='"Liberation Sans", Arial, sans-serif' font-size="39.90" textLength="13.37" lengthAdjust="spacingAndGlyphs" fill="#000" >)</text>
<text style="white-space:pre" transform="translate(719.10,497.60) rotate(-90)" x="-0.22" y="30.68" font-family='"Liberation Sans", Arial, sans-serif' font-size="40.10" textLength="320.51" lengthAdjust="spacingAndGlyphs" fill="#000" >Voltage (V vs. Li</text>
<text style="white-space:pre" transform="translate(719.10,497.60) rotate(-90)" x="320.29" y="13.84" font-family='"Liberation Sans", Arial, sans-serif' font-size="24.06" textLength="15.54" lengthAdjust="spacingAndGlyphs" fill="#000" >+</text>
<text style="white-space:pre" transform="translate(719.10,497.60) rotate(-90)" x="335.83" y="30.68" font-family='"Liberation Sans", Arial, sans-serif' font-size="40.10" textLength="61.62" lengthAdjust="spacingAndGlyphs" fill="#000" >/Li)</text>
<text style="white-space:pre" x="643.09" y="283.27" font-family='"Liberation Sans", Arial, sans-serif' font-size="63.13" font-weight="bold" textLength="32.05" lengthAdjust="spacingAndGlyphs" fill="#000" >b</text>
<line x1="919.5" y1="101.9" x2="1008.5" y2="101.9" stroke="#117E7E" stroke-width="8.6" stroke-linecap="round"/>
<line x1="919.5" y1="156.8" x2="1008.5" y2="156.8" stroke="#E30A78" stroke-width="8.6" stroke-linecap="round"/>
<text style="white-space:pre" x="1018.63" y="116.90" font-family='"Liberation Sans", Arial, sans-serif' font-size="40.41" textLength="65.62" lengthAdjust="spacingAndGlyphs" fill="#000" >SiO</text>
<text style="white-space:pre" x="1017.30" y="171.80" font-family='"Liberation Sans", Arial, sans-serif' font-size="40.41" textLength="271.37" lengthAdjust="spacingAndGlyphs" fill="#000" >Prelithiated-SiO</text>
<text style="white-space:pre" x="1019.67" y="224.33" font-family='"Liberation Sans", Arial, sans-serif' font-size="44.60" textLength="150.91" lengthAdjust="spacingAndGlyphs" fill="#000" >(Li-CNP)</text>
<path d="M931.8,360.2 L948.4,341.4 L948.4,350.2 L994.7,350.2 L994.7,369.0 L948.4,369.0 L948.4,378.9 Z" stroke="none" stroke-width="1" fill="#000" />
<text style="white-space:pre" x="643.25" y="676.95" font-family='"Liberation Sans", Arial, sans-serif' font-size="55.27" font-weight="bold" textLength="24.31" lengthAdjust="spacingAndGlyphs" fill="#000" >c</text>
<text style="white-space:pre" x="722.69" y="755.18" font-family='"Liberation Sans", Arial, sans-serif' font-size="25.35" font-weight="bold" textLength="147.92" lengthAdjust="spacingAndGlyphs" fill="#111" >THF Recycling</text>
<path d="M713.6,803 L713.6,772.4 L883.7,772.4 L883.7,903" stroke="#6AA84F" stroke-width="5.0" fill="none" stroke-dasharray="13 7.5"/>
<path d="M705.6,801.5 L721.6,801.5 L713.6,820.5 Z" stroke="none" stroke-width="1" fill="#6AA84F" />
<line x1="779.6" y1="905.6" x2="924.3" y2="905.6" stroke="#6AA84F" stroke-width="7" />
<path d="M923.3,896.0 L939.1,905.6 L923.3,915.2 Z" stroke="none" stroke-width="1" fill="#6AA84F" />
<line x1="1104.3" y1="901.4" x2="1249.0" y2="901.4" stroke="#6AA84F" stroke-width="6" />
<path d="M1248.0,892.1 L1265.0,901.4 L1248.0,910.7 Z" stroke="none" stroke-width="1" fill="#6AA84F" />
<line x1="1423.7" y1="901.4" x2="1566.0" y2="901.4" stroke="#6AA84F" stroke-width="6" />
<path d="M1565.0,892.1 L1582.5,901.4 L1565.0,910.7 Z" stroke="none" stroke-width="1" fill="#6AA84F" />
<path d="M671.4,840 L671.4,966 A42.2,12 0 0 0 755.8,966 L755.8,840" stroke="#111" stroke-width="1.8" fill="#fff" />
<path d="M671.4,908 L671.4,966 A42.2,12 0 0 0 755.8,966 L755.8,908 Z" stroke="none" stroke-width="1" fill="#395F67" />
<ellipse cx="713.6" cy="908.0" rx="42.2" ry="8.5" fill="#7AA2A8" stroke="none" stroke-width="1" />
<ellipse cx="689.9" cy="903.0" rx="8.0" ry="9.6" fill="url(#wsph)" stroke="none" stroke-width="1" />
<ellipse cx="704.4" cy="906.9" rx="8.0" ry="9.6" fill="url(#wsph)" stroke="none" stroke-width="1" />
<ellipse cx="721.5" cy="906.9" rx="8.0" ry="9.6" fill="url(#wsph)" stroke="none" stroke-width="1" />
<ellipse cx="737.4" cy="901.6" rx="8.0" ry="9.6" fill="url(#wsph)" stroke="none" stroke-width="1" />
<ellipse cx="679.3" cy="918.8" rx="8.0" ry="9.6" fill="url(#wsph)" stroke="none" stroke-width="1" />
<ellipse cx="695.2" cy="925.4" rx="8.0" ry="9.6" fill="url(#wsph)" stroke="none" stroke-width="1" />
<ellipse cx="711.0" cy="928.0" rx="8.0" ry="9.6" fill="url(#wsph)" stroke="none" stroke-width="1" />
<ellipse cx="726.8" cy="925.4" rx="8.0" ry="9.6" fill="url(#wsph)" stroke="none" stroke-width="1" />
<ellipse cx="744.0" cy="920.1" rx="8.0" ry="9.6" fill="url(#wsph)" stroke="none" stroke-width="1" />
<path d="M671.4,840 L671.4,966 A42.2,12 0 0 0 755.8,966 L755.8,840" stroke="#111" stroke-width="1.8" fill="none" />
<ellipse cx="713.6" cy="839.7" rx="42.2" ry="11.9" fill="#fff" stroke="#111" stroke-width="1.8" />
<ellipse cx="1022.2" cy="898.4" rx="62.0" ry="75.9" fill="#E3E3E3" stroke="none" stroke-width="1" />
<ellipse cx="1022.4" cy="898.8" rx="49.2" ry="60.5" fill="#3D3D3D" stroke="none" stroke-width="1" />
<ellipse cx="1005.6" cy="880.0" rx="27.0" ry="35.0" fill="url(#hl)" stroke="none" stroke-width="1" />
<ellipse cx="1345.8" cy="903.0" rx="61.3" ry="75.9" fill="url(#fsph)" stroke="none" stroke-width="1" />
<ellipse cx="1332.5" cy="877.0" rx="23.0" ry="31.0" fill="url(#hl)" stroke="none" stroke-width="1" />
<ellipse cx="1671.5" cy="901.6" rx="67.9" ry="83.8" fill="#E8574A" stroke="none" stroke-width="1" />
<ellipse cx="1671.5" cy="901.6" rx="61.3" ry="76.0" fill="#393939" stroke="none" stroke-width="1" />
<ellipse cx="1650.0" cy="877.0" rx="29.0" ry="38.0" fill="url(#hl)" stroke="none" stroke-width="1" />
<text style="white-space:pre" x="1138.38" y="843.64" font-family='"Liberation Sans", Arial, sans-serif' font-size="25.99" font-weight="bold" textLength="92.51" lengthAdjust="spacingAndGlyphs" fill="#111" >Biphenyl</text>
<text style="white-space:pre" x="1140.19" y="876.82" font-family='"Liberation Sans", Arial, sans-serif' font-size="27.89" font-weight="bold" textLength="90.71" lengthAdjust="spacingAndGlyphs" fill="#111" >Removal</text>
<text style="white-space:pre" x="1135.23" y="940.41" font-family='"Liberation Sans", Arial, sans-serif' font-size="29.43" textLength="99.37" lengthAdjust="spacingAndGlyphs" fill="#222" >&amp; Vacuum</text>
<text style="white-space:pre" x="1106.27" y="969.27" font-family='"Liberation Sans", Arial, sans-serif' font-size="23.96" textLength="156.27" lengthAdjust="spacingAndGlyphs" fill="#222" >Homogenization</text>
<text style="white-space:pre" x="1480.12" y="856.60" font-family='"Liberation Sans", Arial, sans-serif' font-size="28.41" font-weight="bold" textLength="34.06" lengthAdjust="spacingAndGlyphs" fill="#111" >LiF</text>
<text style="white-space:pre" x="1437.29" y="888.10" font-family='"Liberation Sans", Arial, sans-serif' font-size="30.48" font-weight="bold" textLength="120.48" lengthAdjust="spacingAndGlyphs" fill="#111" >Passivation</text>
<text style="white-space:pre" x="633.11" y="1032.15" font-family='"Liberation Sans", Arial, sans-serif' font-size="25.45" font-weight="bold" textLength="19.06" lengthAdjust="spacingAndGlyphs" fill="#111" >Li</text>
<text style="white-space:pre" x="652.17" y="1032.15" font-family='"Liberation Sans", Arial, sans-serif' font-size="25.45" textLength="198.08" lengthAdjust="spacingAndGlyphs" fill="#111" > + Bp + THF + SiO/C</text>
<text style="white-space:pre" x="967.66" y="1032.15" font-family='"Liberation Sans", Arial, sans-serif' font-size="25.45" textLength="114.70" lengthAdjust="spacingAndGlyphs" fill="#222" >Bp/Li-SiO/C</text>
<text style="white-space:pre" x="1304.26" y="1034.21" font-family='"Liberation Sans", Arial, sans-serif' font-size="28.57" textLength="82.18" lengthAdjust="spacingAndGlyphs" fill="#222" >Li-SiO/C</text>
<text style="white-space:pre" x="1608.76" y="1034.21" font-family='"Liberation Sans", Arial, sans-serif' font-size="28.57" textLength="118.41" lengthAdjust="spacingAndGlyphs" fill="#222" >LiF/Li-SiO/C</text>
<text style="white-space:pre" x="615.91" y="1336.57" font-family='"Liberation Sans", Arial, sans-serif' font-size="62.72" font-weight="bold" textLength="30.36" lengthAdjust="spacingAndGlyphs" fill="#000" >d</text>
<ellipse cx="672.0" cy="1180.3" rx="7.6" ry="11.0" fill="#C5D8EF" stroke="#5A84C2" stroke-width="1.8" />
<ellipse cx="672.0" cy="1217.3" rx="7.6" ry="11.0" fill="#F07E7E" stroke="#C83A3A" stroke-width="1.8" />
<text style="white-space:pre" x="691.52" y="1188.20" font-family='"Liberation Sans", Arial, sans-serif' font-size="22.90" textLength="27.12" lengthAdjust="spacingAndGlyphs" fill="#5A82BE" >THF</text>
<text style="white-space:pre" x="691.50" y="1225.04" font-family='"Liberation Sans", Arial, sans-serif' font-size="22.80" textLength="69.59" lengthAdjust="spacingAndGlyphs" fill="#C84646" >4,4-DMBP</text>
<text style="white-space:pre" x="872.94" y="1224.65" font-family='"Liberation Sans", Arial, sans-serif' font-size="21.18" textLength="197.01" lengthAdjust="spacingAndGlyphs" fill="#707070" >Solvation Electron System</text>
<text style="white-space:pre" x="1126.95" y="1228.05" font-family='"Liberation Sans", Arial, sans-serif' font-size="24.76" textLength="163.50" lengthAdjust="spacingAndGlyphs" fill="#707070" >Molecular Association</text>
<rect x="664.1" y="1246.3" width="135.8" height="191.2" fill="none" stroke="#6A6A6A" stroke-width="2" stroke-dasharray="7 5"/>
<rect x="900.1" y="1246.3" width="135.8" height="191.2" fill="none" stroke="#6A6A6A" stroke-width="2" stroke-dasharray="7 5"/>
<rect x="1144.7" y="1247.4" width="135.6" height="190.3" fill="none" stroke="#6A6A6A" stroke-width="2" stroke-dasharray="7 5"/>
<ellipse cx="687.3" cy="1285.8" rx="7.4" ry="10.4" fill="#C5D8EF" stroke="#5A84C2" stroke-width="1.8" />
<ellipse cx="730.8" cy="1293.7" rx="7.4" ry="10.4" fill="#F07E7E" stroke="#C83A3A" stroke-width="1.8" />
<ellipse cx="761.6" cy="1275.3" rx="7.4" ry="10.4" fill="#C5D8EF" stroke="#5A84C2" stroke-width="1.8" />
<ellipse cx="711.5" cy="1329.3" rx="7.4" ry="10.4" fill="#C5D8EF" stroke="#5A84C2" stroke-width="1.8" />
<ellipse cx="774.0" cy="1326.2" rx="7.4" ry="10.4" fill="#F07E7E" stroke="#C83A3A" stroke-width="1.8" />
<ellipse cx="686.5" cy="1362.3" rx="7.4" ry="10.4" fill="#F07E7E" stroke="#C83A3A" stroke-width="1.8" />
<ellipse cx="747.1" cy="1351.8" rx="7.4" ry="10.4" fill="#C5D8EF" stroke="#5A84C2" stroke-width="1.8" />
<ellipse cx="701.3" cy="1397.9" rx="7.4" ry="10.4" fill="#C5D8EF" stroke="#5A84C2" stroke-width="1.8" />
<ellipse cx="737.4" cy="1397.9" rx="7.4" ry="10.4" fill="#F07E7E" stroke="#C83A3A" stroke-width="1.8" />
<ellipse cx="766.9" cy="1397.9" rx="7.4" ry="10.4" fill="#C5D8EF" stroke="#5A84C2" stroke-width="1.8" />
<ellipse cx="937.0" cy="1280.5" rx="7.4" ry="10.4" fill="#C5D8EF" stroke="#5A84C2" stroke-width="1.8" />
<ellipse cx="1012.2" cy="1275.3" rx="7.4" ry="10.4" fill="#C5D8EF" stroke="#5A84C2" stroke-width="1.8" />
<ellipse cx="960.2" cy="1337.3" rx="7.4" ry="10.4" fill="#C5D8EF" stroke="#5A84C2" stroke-width="1.8" />
<ellipse cx="992.4" cy="1364.9" rx="7.4" ry="10.4" fill="#C5D8EF" stroke="#5A84C2" stroke-width="1.8" />
<ellipse cx="937.6" cy="1397.9" rx="7.4" ry="10.4" fill="#C5D8EF" stroke="#5A84C2" stroke-width="1.8" />
<ellipse cx="1012.7" cy="1409.8" rx="7.4" ry="10.4" fill="#C5D8EF" stroke="#5A84C2" stroke-width="1.8" />
<ellipse cx="967.4" cy="1299.0" rx="7.4" ry="10.4" fill="#F07E7E" stroke="#C83A3A" stroke-width="1.8" />
<ellipse cx="1010.9" cy="1326.2" rx="7.4" ry="10.4" fill="#F07E7E" stroke="#C83A3A" stroke-width="1.8" />
<ellipse cx="926.5" cy="1353.1" rx="7.4" ry="10.4" fill="#F07E7E" stroke="#C83A3A" stroke-width="1.8" />
<ellipse cx="974.0" cy="1398.4" rx="7.4" ry="10.4" fill="#F07E7E" stroke="#C83A3A" stroke-width="1.8" />
<ellipse cx="970.8" cy="1280.5" rx="3.8" ry="5.0" fill="#3D7D68" stroke="none" stroke-width="1" />
<ellipse cx="920.7" cy="1337.8" rx="3.8" ry="5.0" fill="#3D7D68" stroke="none" stroke-width="1" />
<ellipse cx="1017.5" cy="1340.4" rx="3.8" ry="5.0" fill="#3D7D68" stroke="none" stroke-width="1" />
<ellipse cx="963.9" cy="1387.4" rx="3.8" ry="5.0" fill="#3D7D68" stroke="none" stroke-width="1" />
<ellipse cx="921.2" cy="1288.5" rx="7.4" ry="10.4" fill="#fff" stroke="#3E8C6E" stroke-width="1.8" /><line x1="917.2" y1="1288.5" x2="925.2" y2="1288.5" stroke="#3E8C6E" stroke-width="1.5" /><line x1="921.2" y1="1283.5" x2="921.2" y2="1293.5" stroke="#3E8C6E" stroke-width="1.5" />
<ellipse cx="1000.3" cy="1291.1" rx="7.4" ry="10.4" fill="#fff" stroke="#3E8C6E" stroke-width="1.8" /><line x1="996.3" y1="1291.1" x2="1004.3" y2="1291.1" stroke="#3E8C6E" stroke-width="1.5" /><line x1="1000.3" y1="1286.1" x2="1000.3" y2="1296.1" stroke="#3E8C6E" stroke-width="1.5" />
<ellipse cx="975.3" cy="1329.3" rx="7.4" ry="10.4" fill="#fff" stroke="#3E8C6E" stroke-width="1.8" /><line x1="971.3" y1="1329.3" x2="979.3" y2="1329.3" stroke="#3E8C6E" stroke-width="1.5" /><line x1="975.3" y1="1324.3" x2="975.3" y2="1334.3" stroke="#3E8C6E" stroke-width="1.5" />
<ellipse cx="976.6" cy="1362.3" rx="7.4" ry="10.4" fill="#fff" stroke="#3E8C6E" stroke-width="1.8" /><line x1="972.6" y1="1362.3" x2="980.6" y2="1362.3" stroke="#3E8C6E" stroke-width="1.5" /><line x1="976.6" y1="1357.3" x2="976.6" y2="1367.3" stroke="#3E8C6E" stroke-width="1.5" />
<ellipse cx="1015.6" cy="1386.0" rx="7.4" ry="10.4" fill="#fff" stroke="#3E8C6E" stroke-width="1.8" /><line x1="1011.6" y1="1386.0" x2="1019.6" y2="1386.0" stroke="#3E8C6E" stroke-width="1.5" /><line x1="1015.6" y1="1381.0" x2="1015.6" y2="1391.0" stroke="#3E8C6E" stroke-width="1.5" />
<ellipse cx="926.5" cy="1415.1" rx="7.4" ry="10.4" fill="#fff" stroke="#3E8C6E" stroke-width="1.8" /><line x1="922.5" y1="1415.1" x2="930.5" y2="1415.1" stroke="#3E8C6E" stroke-width="1.5" /><line x1="926.5" y1="1410.1" x2="926.5" y2="1420.1" stroke="#3E8C6E" stroke-width="1.5" />
<text style="white-space:pre" x="913.25" y="1270.00" font-family='"Liberation Sans", Arial, sans-serif' font-size="18.95" textLength="13.15" lengthAdjust="spacingAndGlyphs" fill="#4A9A7E" >Li</text>
<text style="white-space:pre" x="926.40" y="1262.04" font-family='"Liberation Sans", Arial, sans-serif' font-size="11.37" textLength="5.92" lengthAdjust="spacingAndGlyphs" fill="#4A9A7E" >+</text>
<text style="white-space:pre" x="915.35" y="1326.50" font-family='"Liberation Sans", Arial, sans-serif' font-size="19.56" textLength="9.10" lengthAdjust="spacingAndGlyphs" fill="#4A9A7E" >e</text>
<text style="white-space:pre" x="924.45" y="1317.70" font-family='"Liberation Sans", Arial, sans-serif' font-size="13.69" textLength="3.81" lengthAdjust="spacingAndGlyphs" fill="#4A9A7E" >-</text>
<ellipse cx="846.8" cy="1320.1" rx="7.6" ry="10.5" fill="#A9D6C3" stroke="#4E9A7E" stroke-width="1.8" />
<line x1="859.2" y1="1313.5" x2="910.7" y2="1292.4" stroke="#8FD3C3" stroke-width="1.6" />
<path d="M910.7,1292.4 L906.3,1297.5 L904.0,1291.9 Z" stroke="none" stroke-width="1" fill="#8FD3C3" />
<line x1="859.2" y1="1325.4" x2="910.7" y2="1335.9" stroke="#8FD3C3" stroke-width="1.6" />
<path d="M910.7,1335.9 L904.2,1337.6 L905.4,1331.8 Z" stroke="none" stroke-width="1" fill="#8FD3C3" />
<line x1="806.5" y1="1342.0" x2="889.9" y2="1342.0" stroke="#666" stroke-width="1.8" /><path d="M883.9,1338.5 L890.9,1342 L883.9,1345.5" stroke="#666" stroke-width="1.8" fill="none" />
<text style="white-space:pre" x="827.60" y="1372.67" font-family='"Liberation Sans", Arial, sans-serif' font-size="23.40" textLength="43.20" lengthAdjust="spacingAndGlyphs" fill="#4E9A7E" >Add Li</text>
<line x1="1046.4" y1="1339.9" x2="1130.0" y2="1339.9" stroke="#666" stroke-width="1.8" /><path d="M1124,1336.4 L1131,1339.9 L1124,1343.4" stroke="#666" stroke-width="1.8" fill="none" />
<ellipse cx="1183.8" cy="1286.6" rx="20.0" ry="28.7" fill="#D2D2D2" stroke="#7A7A7A" stroke-width="1.8" />
<ellipse cx="1212.1" cy="1392.2" rx="19.6" ry="29.1" fill="#D2D2D2" stroke="#7A7A7A" stroke-width="1.8" />
<ellipse cx="1177.5" cy="1275.6" rx="3.8" ry="5.0" fill="#3D7D68" stroke="none" stroke-width="1" />
<ellipse cx="1190.2" cy="1273.8" rx="7.4" ry="10.4" fill="#C5D8EF" stroke="#5A84C2" stroke-width="1.8" />
<ellipse cx="1173.8" cy="1293.8" rx="7.4" ry="10.4" fill="#F07E7E" stroke="#C83A3A" stroke-width="1.8" />
<ellipse cx="1190.2" cy="1298.4" rx="7.4" ry="10.4" fill="#fff" stroke="#3E8C6E" stroke-width="1.8" /><line x1="1186.2" y1="1298.4" x2="1194.2" y2="1298.4" stroke="#3E8C6E" stroke-width="1.5" /><line x1="1190.2" y1="1293.4" x2="1190.2" y2="1303.4" stroke="#3E8C6E" stroke-width="1.5" />
<ellipse cx="1241.2" cy="1293.8" rx="7.4" ry="10.4" fill="#fff" stroke="#3E8C6E" stroke-width="1.8" /><line x1="1237.2" y1="1293.8" x2="1245.2" y2="1293.8" stroke="#3E8C6E" stroke-width="1.5" /><line x1="1241.2" y1="1288.8" x2="1241.2" y2="1298.8" stroke="#3E8C6E" stroke-width="1.5" />
<ellipse cx="1253.0" cy="1278.4" rx="7.4" ry="10.4" fill="#C5D8EF" stroke="#5A84C2" stroke-width="1.8" />
<ellipse cx="1242.1" cy="1334.8" rx="7.4" ry="10.4" fill="#F07E7E" stroke="#C83A3A" stroke-width="1.8" />
<ellipse cx="1249.0" cy="1348.5" rx="3.8" ry="5.0" fill="#3D7D68" stroke="none" stroke-width="1" />
<ellipse cx="1167.5" cy="1377.6" rx="7.4" ry="10.4" fill="#fff" stroke="#3E8C6E" stroke-width="1.8" /><line x1="1163.5" y1="1377.6" x2="1171.5" y2="1377.6" stroke="#3E8C6E" stroke-width="1.5" /><line x1="1167.5" y1="1372.6" x2="1167.5" y2="1382.6" stroke="#3E8C6E" stroke-width="1.5" />
<ellipse cx="1178.0" cy="1360.3" rx="7.4" ry="10.4" fill="#C5D8EF" stroke="#5A84C2" stroke-width="1.8" />
<ellipse cx="1203.0" cy="1384.9" rx="7.4" ry="10.4" fill="#fff" stroke="#3E8C6E" stroke-width="1.8" /><line x1="1199.0" y1="1384.9" x2="1207.0" y2="1384.9" stroke="#3E8C6E" stroke-width="1.5" /><line x1="1203.0" y1="1379.9" x2="1203.0" y2="1389.9" stroke="#3E8C6E" stroke-width="1.5" />
<ellipse cx="1219.3" cy="1378.5" rx="7.4" ry="10.4" fill="#C5D8EF" stroke="#5A84C2" stroke-width="1.8" />
<ellipse cx="1220.8" cy="1397.6" rx="3.8" ry="5.0" fill="#3D7D68" stroke="none" stroke-width="1" />
<ellipse cx="1209.7" cy="1406.7" rx="7.4" ry="10.4" fill="#F07E7E" stroke="#C83A3A" stroke-width="1.8" />
<ellipse cx="1254.8" cy="1389.4" rx="7.4" ry="10.4" fill="#fff" stroke="#3E8C6E" stroke-width="1.8" /><line x1="1250.8" y1="1389.4" x2="1258.8" y2="1389.4" stroke="#3E8C6E" stroke-width="1.5" /><line x1="1254.8" y1="1384.4" x2="1254.8" y2="1394.4" stroke="#3E8C6E" stroke-width="1.5" />
<ellipse cx="1251.6" cy="1412.2" rx="7.4" ry="10.4" fill="#C5D8EF" stroke="#5A84C2" stroke-width="1.8" />
<rect x="663.0" y="1460.5" width="616.5" height="190.6" fill="none" stroke="#7A7A7A" stroke-width="2.2"/>
<line x1="711.5" y1="1589.4" x2="711.5" y2="1444.7" stroke="#666" stroke-width="1.6" /><path d="M708.0,1450.7 L711.5,1443.7 L715.0,1450.7" stroke="#666" stroke-width="1.6" fill="none" />
<line x1="939.4" y1="1481.8" x2="939.4" y2="1444.7" stroke="#666" stroke-width="1.6" /><path d="M935.9,1450.7 L939.4,1443.7 L942.9,1450.7" stroke="#666" stroke-width="1.6" fill="none" />
<line x1="1217.8" y1="1541.6" x2="1217.8" y2="1444.7" stroke="#666" stroke-width="1.6" /><path d="M1214.3,1450.7 L1217.8,1443.7 L1221.3,1450.7" stroke="#666" stroke-width="1.6" fill="none" />
<rect x="684.3" y="1596.2" width="97.1" height="46.7" fill="none" stroke="#6A6A6A" stroke-width="2" stroke-dasharray="6 4.5"/>
<rect x="900.2" y="1481.8" width="87.8" height="134.5" fill="none" stroke="#6A6A6A" stroke-width="2" stroke-dasharray="6 4.5"/>
<rect x="1190.9" y="1541.6" width="77.3" height="62.8" fill="none" stroke="#6A6A6A" stroke-width="2" stroke-dasharray="6 4.5"/>
<path d="M663.0,1623.8 C671.4,1623.8 695.7,1623.8 713.4,1623.8 C731.2,1623.8 752.6,1623.8 769.4,1623.8 C786.3,1623.8 803.1,1623.9 814.3,1623.8 C825.5,1623.7 830.5,1623.6 836.7,1623.1 C842.9,1622.6 846.7,1622.2 851.6,1620.8 C856.6,1619.5 861.6,1618.2 866.6,1614.9 C871.6,1611.5 875.3,1606.1 881.5,1600.7 C887.8,1595.2 894.6,1590.7 904.0,1582.0 C913.3,1573.3 927.0,1559.6 937.6,1548.4 C948.2,1537.1 958.1,1524.1 967.5,1514.7 C976.8,1505.4 985.5,1498.2 993.6,1492.3 C1001.7,1486.4 1008.6,1482.0 1016.0,1479.2 C1023.5,1476.4 1029.7,1475.2 1038.5,1475.5 C1047.2,1475.8 1059.0,1477.1 1068.3,1481.1 C1077.7,1485.1 1085.2,1492.6 1094.5,1499.8 C1103.8,1506.9 1113.8,1515.7 1124.4,1524.1 C1135.0,1532.5 1147.4,1543.4 1158.0,1550.2 C1168.6,1557.1 1177.9,1561.1 1187.9,1565.2 C1197.9,1569.2 1206.6,1571.1 1217.8,1574.5 C1229.0,1577.9 1244.9,1583.2 1255.2,1585.7 C1265.4,1588.2 1275.4,1588.8 1279.4,1589.4" stroke="#5B9BD5" stroke-width="2.2" fill="none" />
<path d="M904.0,1581.2 L935.7,1548.4 L967.5,1514.7" stroke="#4E7F2E" stroke-width="2.6" fill="none" />
<path d="M969.5,1512.5 L966.8,1522.2 L960.4,1515.8 Z" stroke="none" stroke-width="1" fill="#4E7F2E" />
<path d="M1094.5,1499.8 C1099.5,1503.8 1113.8,1515.7 1124.4,1524.1 C1135.0,1532.5 1152.4,1545.9 1158.0,1550.2" stroke="#E8842E" stroke-width="2.8" fill="none" />
<path d="M1158.0,1551.0 L1148.5,1548.5 L1153.0,1542.0 Z" stroke="none" stroke-width="1" fill="#E8842E" />
<text style="white-space:pre" transform="translate(642.40,1623.10) rotate(-90)" x="-1.21" y="11.63" font-family='"Liberation Sans", Arial, sans-serif' font-size="16.04" textLength="132.06" lengthAdjust="spacingAndGlyphs" fill="#8A8A8A" >Conductivity</text>
<text style="white-space:pre" x="908.24" y="1684.42" font-family='"Liberation Sans", Arial, sans-serif' font-size="27.89" textLength="104.74" lengthAdjust="spacingAndGlyphs" fill="#777" >Lithiation time</text>
<text style="white-space:pre" x="744.19" y="1497.83" font-family='"Liberation Sans", Arial, sans-serif' font-size="17.97" textLength="9.85" lengthAdjust="spacingAndGlyphs" fill="#3E9A9A" >Li</text>
<text style="white-space:pre" x="754.04" y="1497.83" font-family='"Liberation Sans", Arial, sans-serif' font-size="17.97" textLength="14.42" lengthAdjust="spacingAndGlyphs" fill="#555" > + </text>
<text style="white-space:pre" x="768.46" y="1497.83" font-family='"Liberation Sans", Arial, sans-serif' font-size="17.97" textLength="34.21" lengthAdjust="spacingAndGlyphs" fill="#D04040" >x THF</text>
<text style="white-space:pre" x="802.67" y="1497.83" font-family='"Liberation Sans", Arial, sans-serif' font-size="17.97" textLength="10.90" lengthAdjust="spacingAndGlyphs" fill="#555" >+ </text>
<text style="white-space:pre" x="813.57" y="1497.83" font-family='"Liberation Sans", Arial, sans-serif' font-size="17.97" textLength="6.33" lengthAdjust="spacingAndGlyphs" fill="#4A90E0" >y</text>
<line x1="823.6" y1="1492.3" x2="889.0" y2="1492.3" stroke="#555" stroke-width="1.2" /><path d="M836.7,1492.3 L839.5,1484.7 L845.1,1484.7 L847.9,1492.3 L845.1,1499.9 L839.5,1499.9 Z" stroke="#1D3F70" stroke-width="1.2" fill="#3D8DEB" /><path d="M864.0,1492.3 L866.8,1484.7 L872.4,1484.7 L875.2,1492.3 L872.4,1499.9 L866.8,1499.9 Z" stroke="#1D3F70" stroke-width="1.2" fill="#3D8DEB" />
<line x1="814.3" y1="1514.7" x2="814.3" y2="1533.0" stroke="#4E7F2E" stroke-width="1.6" />
<path d="M811.0,1530.0 L817.6,1530.0 L814.3,1536.0 Z" stroke="none" stroke-width="1" fill="#4E7F2E" />
<line x1="759.0" y1="1561.4" x2="826.0" y2="1561.4" stroke="#555" stroke-width="1.2" /><path d="M773.2,1561.4 L776.0,1553.8 L781.6,1553.8 L784.4,1561.4 L781.6,1569.0 L776.0,1569.0 Z" stroke="#1D3F70" stroke-width="1.2" fill="#3D8DEB" /><path d="M803.1,1561.4 L805.9,1553.8 L811.5,1553.8 L814.3,1561.4 L811.5,1569.0 L805.9,1569.0 Z" stroke="#1D3F70" stroke-width="1.2" fill="#3D8DEB" />
<text style="white-space:pre" x="752.58" y="1571.30" font-family='"Liberation Sans", Arial, sans-serif' font-size="41.93" textLength="7.64" lengthAdjust="spacingAndGlyphs" fill="#555" >[</text>
<text style="white-space:pre" x="826.87" y="1571.30" font-family='"Liberation Sans", Arial, sans-serif' font-size="41.93" textLength="7.45" lengthAdjust="spacingAndGlyphs" fill="#555" >]</text>
<text style="white-space:pre" x="834.24" y="1564.65" font-family='"Liberation Sans", Arial, sans-serif' font-size="16.98" textLength="9.64" lengthAdjust="spacingAndGlyphs" fill="#555" >+ </text>
<text style="white-space:pre" x="843.88" y="1564.65" font-family='"Liberation Sans", Arial, sans-serif' font-size="16.98" textLength="8.71" lengthAdjust="spacingAndGlyphs" fill="#3E9A9A" >Li</text>
<text style="white-space:pre" x="852.59" y="1557.86" font-family='"Liberation Sans", Arial, sans-serif' font-size="10.19" textLength="3.92" lengthAdjust="spacingAndGlyphs" fill="#3E9A9A" >+</text>
<text style="white-space:pre" x="856.51" y="1564.65" font-family='"Liberation Sans", Arial, sans-serif' font-size="16.98" textLength="29.19" lengthAdjust="spacingAndGlyphs" fill="#C84646" >(THF)</text>
<text style="white-space:pre" x="885.70" y="1568.90" font-family='"Liberation Sans", Arial, sans-serif' font-size="10.19" textLength="3.73" lengthAdjust="spacingAndGlyphs" fill="#C84646" >n</text>
<line x1="1003.0" y1="1544.6" x2="1072.0" y2="1544.6" stroke="#555" stroke-width="1.2" /><path d="M1017.9,1544.6 L1020.7,1537.0 L1026.3,1537.0 L1029.1,1544.6 L1026.3,1552.2 L1020.7,1552.2 Z" stroke="#1D3F70" stroke-width="1.2" fill="#3D8DEB" /><path d="M1046.3,1544.6 L1049.1,1537.0 L1054.7,1537.0 L1057.5,1544.6 L1054.7,1552.2 L1049.1,1552.2 Z" stroke="#1D3F70" stroke-width="1.2" fill="#3D8DEB" />
<text style="white-space:pre" x="997.08" y="1554.69" font-family='"Liberation Sans", Arial, sans-serif' font-size="39.57" textLength="7.64" lengthAdjust="spacingAndGlyphs" fill="#555" >[</text>
<text style="white-space:pre" x="1071.37" y="1554.69" font-family='"Liberation Sans", Arial, sans-serif' font-size="39.57" textLength="7.45" lengthAdjust="spacingAndGlyphs" fill="#555" >]</text>
<text style="white-space:pre" x="1077.14" y="1547.88" font-family='"Liberation Sans", Arial, sans-serif' font-size="16.88" textLength="9.64" lengthAdjust="spacingAndGlyphs" fill="#555" >+ </text>
<text style="white-space:pre" x="1086.78" y="1547.88" font-family='"Liberation Sans", Arial, sans-serif' font-size="16.88" textLength="8.71" lengthAdjust="spacingAndGlyphs" fill="#3E9A9A" >Li</text>
<text style="white-space:pre" x="1095.49" y="1541.13" font-family='"Liberation Sans", Arial, sans-serif' font-size="10.13" textLength="3.92" lengthAdjust="spacingAndGlyphs" fill="#3E9A9A" >+</text>
<text style="white-space:pre" x="1099.41" y="1547.88" font-family='"Liberation Sans", Arial, sans-serif' font-size="16.88" textLength="29.19" lengthAdjust="spacingAndGlyphs" fill="#C84646" >(THF)</text>
<text style="white-space:pre" x="1128.60" y="1552.10" font-family='"Liberation Sans", Arial, sans-serif' font-size="10.13" textLength="3.73" lengthAdjust="spacingAndGlyphs" fill="#C84646" >n</text>
<line x1="1072.1" y1="1572.6" x2="1072.1" y2="1590.0" stroke="#E8842E" stroke-width="1.6" />
<path d="M1068.8,1587.0 L1075.4,1587.0 L1072.1,1593.2 Z" stroke="none" stroke-width="1" fill="#E8842E" />
<text style="white-space:pre" x="1028.18" y="1626.12" font-family='"Liberation Sans", Arial, sans-serif' font-size="47.06" textLength="7.12" lengthAdjust="spacingAndGlyphs" fill="#555" >{</text>
<line x1="1038.0" y1="1613.7" x2="1102.0" y2="1613.7" stroke="#555" stroke-width="1.2" /><path d="M1049.7,1613.7 L1052.5,1606.1 L1058.1,1606.1 L1060.9,1613.7 L1058.1,1621.3 L1052.5,1621.3 Z" stroke="#1D3F70" stroke-width="1.2" fill="#3D8DEB" /><path d="M1077.7,1613.7 L1080.5,1606.1 L1086.1,1606.1 L1088.9,1613.7 L1086.1,1621.3 L1080.5,1621.3 Z" stroke="#1D3F70" stroke-width="1.2" fill="#3D8DEB" />
<text style="white-space:pre" x="1033.25" y="1623.69" font-family='"Liberation Sans", Arial, sans-serif' font-size="39.57" textLength="6.95" lengthAdjust="spacingAndGlyphs" fill="#555" >[</text>
<text style="white-space:pre" x="1100.37" y="1623.69" font-family='"Liberation Sans", Arial, sans-serif' font-size="39.57" textLength="7.45" lengthAdjust="spacingAndGlyphs" fill="#555" >]</text>
<text style="white-space:pre" x="1108.52" y="1620.00" font-family='"Liberation Sans", Arial, sans-serif' font-size="20.94" textLength="8.56" lengthAdjust="spacingAndGlyphs" fill="#4A9A9A" >Li</text>
<text style="white-space:pre" x="1117.08" y="1611.62" font-family='"Liberation Sans", Arial, sans-serif' font-size="12.56" textLength="3.85" lengthAdjust="spacingAndGlyphs" fill="#4A9A9A" >+</text>
<text style="white-space:pre" x="1121.67" y="1626.12" font-family='"Liberation Sans", Arial, sans-serif' font-size="47.06" textLength="7.24" lengthAdjust="spacingAndGlyphs" fill="#555" >}</text>
<text style="white-space:pre" x="1129.33" y="1618.31" font-family='"Liberation Sans", Arial, sans-serif' font-size="19.18" textLength="29.17" lengthAdjust="spacingAndGlyphs" fill="#C84646" >(THF)</text>
<text style="white-space:pre" x="1158.50" y="1623.10" font-family='"Liberation Sans", Arial, sans-serif' font-size="11.51" textLength="3.73" lengthAdjust="spacingAndGlyphs" fill="#C84646" >n</text>
<text style="white-space:pre" x="1538.00" y="1223.70" font-family='"Liberation Sans", Arial, sans-serif' font-size="59.82" font-weight="bold" textLength="27.87" lengthAdjust="spacingAndGlyphs" fill="#000" >e</text>
<rect x="1361.4" y="1238.6" width="410.0" height="389.4" fill="none" stroke="#333" stroke-width="2.2"/>
<line x1="1355.7" y1="1268.6" x2="1361.4" y2="1268.6" stroke="#333" stroke-width="1.8" />
<line x1="1358.0" y1="1298.6" x2="1361.4" y2="1298.6" stroke="#333" stroke-width="1.5" />
<line x1="1355.7" y1="1328.6" x2="1361.4" y2="1328.6" stroke="#333" stroke-width="1.8" />
<line x1="1358.0" y1="1358.6" x2="1361.4" y2="1358.6" stroke="#333" stroke-width="1.5" />
<line x1="1355.7" y1="1388.6" x2="1361.4" y2="1388.6" stroke="#333" stroke-width="1.8" />
<line x1="1358.0" y1="1418.6" x2="1361.4" y2="1418.6" stroke="#333" stroke-width="1.5" />
<line x1="1355.7" y1="1448.6" x2="1361.4" y2="1448.6" stroke="#333" stroke-width="1.8" />
<line x1="1358.0" y1="1478.6" x2="1361.4" y2="1478.6" stroke="#333" stroke-width="1.5" />
<line x1="1355.7" y1="1508.6" x2="1361.4" y2="1508.6" stroke="#333" stroke-width="1.8" />
<line x1="1358.0" y1="1538.6" x2="1361.4" y2="1538.6" stroke="#333" stroke-width="1.5" />
<line x1="1355.7" y1="1568.6" x2="1361.4" y2="1568.6" stroke="#333" stroke-width="1.8" />
<line x1="1358.0" y1="1598.6" x2="1361.4" y2="1598.6" stroke="#333" stroke-width="1.5" />
<line x1="1355.7" y1="1628.6" x2="1361.4" y2="1628.6" stroke="#333" stroke-width="1.8" />
<text style="white-space:pre" x="1327.67" y="1276.75" font-family='"Liberation Serif", "Times New Roman", serif' font-size="23.09" textLength="25.96" lengthAdjust="spacingAndGlyphs" fill="#222" >3.0</text>
<text style="white-space:pre" x="1327.66" y="1336.75" font-family='"Liberation Serif", "Times New Roman", serif' font-size="23.26" textLength="26.07" lengthAdjust="spacingAndGlyphs" fill="#222" >2.5</text>
<text style="white-space:pre" x="1327.67" y="1396.75" font-family='"Liberation Serif", "Times New Roman", serif' font-size="23.09" textLength="25.96" lengthAdjust="spacingAndGlyphs" fill="#222" >2.0</text>
<text style="white-space:pre" x="1326.76" y="1456.75" font-family='"Liberation Serif", "Times New Roman", serif' font-size="23.26" textLength="27.00" lengthAdjust="spacingAndGlyphs" fill="#222" >1.5</text>
<text style="white-space:pre" x="1326.77" y="1516.75" font-family='"Liberation Serif", "Times New Roman", serif' font-size="23.09" textLength="26.88" lengthAdjust="spacingAndGlyphs" fill="#222" >1.0</text>
<text style="white-space:pre" x="1327.88" y="1576.75" font-family='"Liberation Serif", "Times New Roman", serif' font-size="23.09" textLength="25.85" lengthAdjust="spacingAndGlyphs" fill="#222" >0.5</text>
<text style="white-space:pre" x="1327.88" y="1636.75" font-family='"Liberation Serif", "Times New Roman", serif' font-size="23.09" textLength="25.74" lengthAdjust="spacingAndGlyphs" fill="#222" >0.0</text>
<line x1="1361.4" y1="1628.0" x2="1361.4" y2="1635.7" stroke="#333" stroke-width="1.8" />
<line x1="1395.6" y1="1628.0" x2="1395.6" y2="1632.0" stroke="#333" stroke-width="1.5" />
<line x1="1429.7" y1="1628.0" x2="1429.7" y2="1635.7" stroke="#333" stroke-width="1.8" />
<line x1="1463.9" y1="1628.0" x2="1463.9" y2="1632.0" stroke="#333" stroke-width="1.5" />
<line x1="1498.0" y1="1628.0" x2="1498.0" y2="1635.7" stroke="#333" stroke-width="1.8" />
<line x1="1532.2" y1="1628.0" x2="1532.2" y2="1632.0" stroke="#333" stroke-width="1.5" />
<line x1="1566.3" y1="1628.0" x2="1566.3" y2="1635.7" stroke="#333" stroke-width="1.8" />
<line x1="1600.5" y1="1628.0" x2="1600.5" y2="1632.0" stroke="#333" stroke-width="1.5" />
<line x1="1634.6" y1="1628.0" x2="1634.6" y2="1635.7" stroke="#333" stroke-width="1.8" />
<line x1="1668.8" y1="1628.0" x2="1668.8" y2="1632.0" stroke="#333" stroke-width="1.5" />
<line x1="1702.9" y1="1628.0" x2="1702.9" y2="1635.7" stroke="#333" stroke-width="1.8" />
<line x1="1737.1" y1="1628.0" x2="1737.1" y2="1632.0" stroke="#333" stroke-width="1.5" />
<line x1="1771.4" y1="1628.0" x2="1771.4" y2="1635.7" stroke="#333" stroke-width="1.8" />
<text style="white-space:pre" x="1356.11" y="1659.77" font-family='"Liberation Serif", "Times New Roman", serif' font-size="23.26" textLength="10.58" lengthAdjust="spacingAndGlyphs" fill="#222" >0</text>
<text style="white-space:pre" x="1419.50" y="1659.77" font-family='"Liberation Serif", "Times New Roman", serif' font-size="23.26" textLength="20.00" lengthAdjust="spacingAndGlyphs" fill="#222" >50</text>
<text style="white-space:pre" x="1483.12" y="1659.77" font-family='"Liberation Serif", "Times New Roman", serif' font-size="23.26" textLength="28.80" lengthAdjust="spacingAndGlyphs" fill="#222" >100</text>
<text style="white-space:pre" x="1551.42" y="1659.77" font-family='"Liberation Serif", "Times New Roman", serif' font-size="23.26" textLength="28.80" lengthAdjust="spacingAndGlyphs" fill="#222" >150</text>
<text style="white-space:pre" x="1620.51" y="1659.77" font-family='"Liberation Serif", "Times New Roman", serif' font-size="23.26" textLength="27.99" lengthAdjust="spacingAndGlyphs" fill="#222" >200</text>
<text style="white-space:pre" x="1688.81" y="1659.77" font-family='"Liberation Serif", "Times New Roman", serif' font-size="23.26" textLength="27.99" lengthAdjust="spacingAndGlyphs" fill="#222" >250</text>
<text style="white-space:pre" x="1757.31" y="1659.77" font-family='"Liberation Serif", "Times New Roman", serif' font-size="23.26" textLength="27.99" lengthAdjust="spacingAndGlyphs" fill="#222" >300</text>
<text style="white-space:pre" x="1428.31" y="1706.96" font-family='"Liberation Serif", "Times New Roman", serif' font-size="34.13" textLength="274.16" lengthAdjust="spacingAndGlyphs" fill="#111" >Specific capacity (mAh/g)</text>
<text style="white-space:pre" transform="translate(1290.00,1508.60) rotate(-90)" x="-0.99" y="14.21" font-family='"Liberation Serif", "Times New Roman", serif' font-size="20.44" textLength="171.02" lengthAdjust="spacingAndGlyphs" fill="#111" >Potential (V)</text>
<line x1="1368.6" y1="1257.7" x2="1401.4" y2="1257.7" stroke="#E8605A" stroke-width="2" stroke-dasharray="6 4"/>
<line x1="1368.6" y1="1280.6" x2="1401.4" y2="1280.6" stroke="#E8605A" stroke-width="2" />
<line x1="1368.6" y1="1303.4" x2="1401.4" y2="1303.4" stroke="#55B2F2" stroke-width="2" stroke-dasharray="6 4"/>
<line x1="1368.6" y1="1326.3" x2="1401.4" y2="1326.3" stroke="#55B2F2" stroke-width="2" />
<text style="white-space:pre" x="1404.51" y="1262.32" font-family='"Liberation Serif", "Times New Roman", serif' font-size="15.71" textLength="260.28" lengthAdjust="spacingAndGlyphs" fill="#222" >10 min lithiation; 80 s prelithiation; Discharge</text>
<text style="white-space:pre" x="1404.50" y="1285.22" font-family='"Liberation Serif", "Times New Roman", serif' font-size="15.71" textLength="244.57" lengthAdjust="spacingAndGlyphs" fill="#222" >10 min lithiation; 80 s prelithiation; Charge</text>
<text style="white-space:pre" x="1403.74" y="1308.02" font-family='"Liberation Serif", "Times New Roman", serif' font-size="15.71" textLength="261.05" lengthAdjust="spacingAndGlyphs" fill="#222" >60 min lithiation; 20 s prelithiation; Discharge</text>
<text style="white-space:pre" x="1403.73" y="1330.92" font-family='"Liberation Serif", "Times New Roman", serif' font-size="15.71" textLength="245.34" lengthAdjust="spacingAndGlyphs" fill="#222" >60 min lithiation; 20 s prelithiation; Charge</text>
<path d="M1362.1,1615.0 C1365.2,1614.1 1372.6,1611.7 1380.9,1609.8 C1389.2,1607.9 1401.8,1606.0 1412.2,1603.6 C1422.6,1601.2 1433.1,1598.0 1443.5,1595.2 C1453.9,1592.4 1464.3,1590.2 1474.8,1586.9 C1485.2,1583.6 1495.8,1579.6 1506.2,1575.4 C1516.7,1571.2 1527.1,1566.8 1537.5,1561.8 C1547.9,1556.8 1558.4,1551.0 1568.8,1545.1 C1579.2,1539.2 1589.7,1532.9 1600.1,1526.3 C1610.5,1519.7 1623.4,1511.8 1631.4,1505.4 C1639.4,1499.0 1643.9,1493.4 1648.1,1487.7 C1652.3,1482.0 1654.2,1478.7 1656.5,1471.0 C1658.8,1463.3 1660.1,1450.8 1661.7,1441.8 C1663.3,1432.8 1664.8,1423.7 1665.9,1416.7 C1667.1,1409.7 1667.7,1410.9 1668.6,1400.0 C1669.5,1389.1 1670.2,1368.1 1671.4,1351.4 C1672.6,1334.7 1674.5,1313.8 1675.7,1300.0 C1676.9,1286.2 1678.1,1273.8 1678.6,1268.6" stroke="#55B2F2" stroke-width="2.5" fill="none" />
<path d="M1362.1,1622.4 C1367.0,1621.4 1381.2,1618.2 1391.3,1616.1 C1401.4,1614.0 1410.4,1612.4 1422.6,1609.8 C1434.8,1607.2 1450.5,1604.2 1464.4,1600.4 C1478.3,1596.6 1492.3,1592.1 1506.2,1586.9 C1520.1,1581.7 1534.0,1575.5 1547.9,1569.1 C1561.8,1562.6 1575.8,1555.5 1589.7,1548.2 C1603.6,1540.9 1619.2,1532.2 1631.4,1525.3 C1643.6,1518.3 1653.7,1512.4 1662.7,1506.5 C1671.8,1500.6 1680.1,1495.0 1685.7,1489.8 C1691.3,1484.6 1693.6,1481.5 1696.2,1475.2 C1698.8,1468.9 1700.0,1461.2 1701.4,1452.2 C1702.8,1443.2 1703.5,1429.6 1704.5,1420.9 C1705.5,1412.2 1706.4,1411.6 1707.6,1400.0 C1708.8,1388.4 1709.9,1368.1 1711.4,1351.4 C1712.9,1334.7 1715.2,1313.8 1716.6,1300.0 C1718.0,1286.2 1719.4,1273.8 1720.0,1268.6" stroke="#E8605A" stroke-width="2.5" fill="none" />
<path d="M1362.1,1552.4 C1367.0,1555.2 1381.2,1564.0 1391.3,1569.1 C1401.4,1574.1 1412.1,1578.5 1422.6,1582.7 C1433.0,1586.9 1443.5,1590.9 1454.0,1594.2 C1464.5,1597.5 1473.1,1599.7 1485.3,1602.5 C1497.5,1605.3 1513.1,1608.6 1527.0,1610.9 C1540.9,1613.2 1554.9,1614.5 1568.8,1616.1 C1582.7,1617.7 1596.7,1619.0 1610.6,1620.3 C1624.5,1621.6 1637.7,1622.6 1652.3,1623.8 C1666.9,1625.0 1690.5,1626.6 1698.2,1627.2" stroke="#E8605A" stroke-width="2.5" fill="none" stroke-dasharray="5.5 3.5"/>
<path d="M1362.1,1560.8 C1363.1,1562.2 1363.5,1565.6 1368.4,1569.1 C1373.3,1572.6 1382.3,1577.2 1391.3,1581.6 C1400.3,1585.9 1412.1,1591.4 1422.6,1595.2 C1433.0,1599.0 1443.5,1602.3 1454.0,1604.6 C1464.5,1606.9 1473.1,1607.2 1485.3,1608.8 C1497.5,1610.4 1513.1,1612.3 1527.0,1614.0 C1540.9,1615.7 1556.6,1617.6 1568.8,1619.2 C1581.0,1620.8 1589.7,1622.1 1600.1,1623.4 C1610.5,1624.7 1626.2,1626.6 1631.4,1627.2" stroke="#55B2F2" stroke-width="2.5" fill="none" stroke-dasharray="5.5 3.5"/>
</svg></body></html>
